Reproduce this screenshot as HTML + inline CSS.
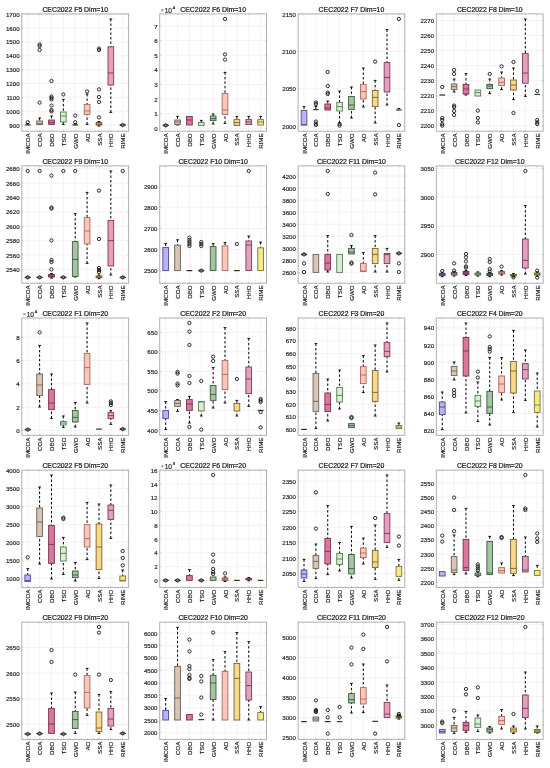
<!DOCTYPE html>
<html><head><meta charset="utf-8"><title>CEC2022 boxplots</title>
<style>html,body{margin:0;padding:0;background:#fff;}svg{display:block;}</style>
</head><body>
<svg width="550" height="768" viewBox="0 0 550 768" font-family="Liberation Sans, Arial, sans-serif">
<style>text{stroke:currentColor;stroke-width:0.18px;paint-order:stroke}.t{stroke-width:0.22px}</style>
<rect width="550" height="768" fill="#ffffff"/>
<g><path d="M27.74 13.9V131.2M39.61 13.9V131.2M51.48 13.9V131.2M63.35 13.9V131.2M75.23 13.9V131.2M87.10 13.9V131.2M98.97 13.9V131.2M110.84 13.9V131.2M122.71 13.9V131.2M21.8 125.00H128.65M21.8 111.16H128.65M21.8 97.33H128.65M21.8 83.49H128.65M21.8 69.65H128.65M21.8 55.81H128.65M21.8 41.98H128.65M21.8 28.14H128.65M21.8 14.30H128.65" stroke="#f0f0f0" stroke-width="0.8" fill="none"/><path d="M27.74 123.60V124.60" stroke="#000" stroke-width="1" stroke-dasharray="2.4 2.1" fill="none"/><path d="M26.34 123.60H29.14" stroke="#000" stroke-width="0.9" fill="none"/><path d="M24.89 124.90H30.59" stroke="#292854" stroke-width="1.2"/><circle cx="27.74" cy="122.20" r="1.65" fill="none" stroke="#111" stroke-width="0.85"/><path d="M39.61 118.00V121.00" stroke="#000" stroke-width="1" stroke-dasharray="2.4 2.1" fill="none"/><path d="M38.21 118.00H41.01" stroke="#000" stroke-width="0.9" fill="none"/><rect x="36.76" y="121.00" width="5.70" height="3.60" fill="#d6c6b9" stroke="#6e5e52" stroke-width="0.9"/><path d="M36.76 123.60H42.46" stroke="#6e5e52" stroke-width="0.9"/><circle cx="39.61" cy="102.60" r="1.65" fill="none" stroke="#111" stroke-width="0.85"/><circle cx="39.61" cy="50.00" r="1.65" fill="none" stroke="#111" stroke-width="0.85"/><circle cx="39.61" cy="46.00" r="1.65" fill="none" stroke="#111" stroke-width="0.85"/><circle cx="39.61" cy="44.40" r="1.65" fill="none" stroke="#111" stroke-width="0.85"/><path d="M51.48 116.00V120.00" stroke="#000" stroke-width="1" stroke-dasharray="2.4 2.1" fill="none"/><path d="M50.08 116.00H52.88" stroke="#000" stroke-width="0.9" fill="none"/><rect x="48.63" y="120.00" width="5.70" height="4.40" fill="#d9789c" stroke="#7a2e4f" stroke-width="0.9"/><path d="M48.63 122.60H54.33" stroke="#7a2e4f" stroke-width="0.9"/><circle cx="51.48" cy="81.00" r="1.65" fill="none" stroke="#111" stroke-width="0.85"/><circle cx="51.48" cy="96.60" r="1.65" fill="none" stroke="#111" stroke-width="0.85"/><circle cx="51.48" cy="98.00" r="1.65" fill="none" stroke="#111" stroke-width="0.85"/><circle cx="51.48" cy="99.40" r="1.65" fill="none" stroke="#111" stroke-width="0.85"/><circle cx="51.48" cy="105.60" r="1.65" fill="none" stroke="#111" stroke-width="0.85"/><circle cx="51.48" cy="110.00" r="1.65" fill="none" stroke="#111" stroke-width="0.85"/><circle cx="51.48" cy="111.40" r="1.65" fill="none" stroke="#111" stroke-width="0.85"/><path d="M63.35 99.40V112.00" stroke="#000" stroke-width="1" stroke-dasharray="2.4 2.1" fill="none"/><path d="M63.35 124.40V122.00" stroke="#000" stroke-width="1" stroke-dasharray="2.4 2.1" fill="none"/><path d="M61.95 99.40H64.75M61.95 124.40H64.75" stroke="#000" stroke-width="0.9" fill="none"/><rect x="60.50" y="112.00" width="5.70" height="10.00" fill="#d6f0d0" stroke="#587a56" stroke-width="0.9"/><path d="M60.50 116.00H66.20" stroke="#587a56" stroke-width="0.9"/><circle cx="63.35" cy="94.40" r="1.65" fill="none" stroke="#111" stroke-width="0.85"/><path d="M75.23 123.60V124.60" stroke="#000" stroke-width="1" stroke-dasharray="2.4 2.1" fill="none"/><path d="M73.83 123.60H76.63" stroke="#000" stroke-width="0.9" fill="none"/><path d="M72.38 124.90H78.07" stroke="#223122" stroke-width="1.2"/><circle cx="75.23" cy="115.60" r="1.65" fill="none" stroke="#111" stroke-width="0.85"/><circle cx="75.23" cy="122.20" r="1.65" fill="none" stroke="#111" stroke-width="0.85"/><path d="M87.10 94.00V104.40" stroke="#000" stroke-width="1" stroke-dasharray="2.4 2.1" fill="none"/><path d="M87.10 124.40V114.40" stroke="#000" stroke-width="1" stroke-dasharray="2.4 2.1" fill="none"/><path d="M85.70 94.00H88.50M85.70 124.40H88.50" stroke="#000" stroke-width="0.9" fill="none"/><rect x="84.25" y="104.40" width="5.70" height="10.00" fill="#f9c6b9" stroke="#a8695e" stroke-width="0.9"/><path d="M84.25 111.00H89.95" stroke="#a8695e" stroke-width="0.9"/><circle cx="87.10" cy="91.40" r="1.65" fill="none" stroke="#111" stroke-width="0.85"/><path d="M98.97 121.50V122.60" stroke="#000" stroke-width="1" stroke-dasharray="2.4 2.1" fill="none"/><path d="M98.97 126.10V125.00" stroke="#000" stroke-width="1" stroke-dasharray="2.4 2.1" fill="none"/><path d="M97.57 121.50H100.37M97.57 126.10H100.37" stroke="#000" stroke-width="0.9" fill="none"/><rect x="96.12" y="122.60" width="5.70" height="2.40" fill="#bea35f" stroke="#614c26" stroke-width="0.9"/><path d="M96.12 124.20H101.82" stroke="#7a6030" stroke-width="0.9"/><circle cx="98.97" cy="117.40" r="1.65" fill="none" stroke="#111" stroke-width="0.85"/><circle cx="98.97" cy="102.00" r="1.65" fill="none" stroke="#111" stroke-width="0.85"/><circle cx="98.97" cy="97.00" r="1.65" fill="none" stroke="#111" stroke-width="0.85"/><circle cx="98.97" cy="89.40" r="1.65" fill="none" stroke="#111" stroke-width="0.85"/><circle cx="98.97" cy="50.00" r="1.65" fill="none" stroke="#111" stroke-width="0.85"/><circle cx="98.97" cy="48.60" r="1.65" fill="none" stroke="#111" stroke-width="0.85"/><path d="M110.84 19.00V46.80" stroke="#000" stroke-width="1" stroke-dasharray="2.4 2.1" fill="none"/><path d="M110.84 112.40V85.00" stroke="#000" stroke-width="1" stroke-dasharray="2.4 2.1" fill="none"/><path d="M109.44 19.00H112.24M109.44 112.40H112.24" stroke="#000" stroke-width="0.9" fill="none"/><rect x="107.99" y="46.80" width="5.70" height="38.20" fill="#e6a0be" stroke="#7a3a5a" stroke-width="0.9"/><path d="M107.99 73.00H113.69" stroke="#7a3a5a" stroke-width="0.9"/><path d="M119.86 125.00H125.56" stroke="#43401a" stroke-width="1.2"/><path d="M119.81 125.00L122.71 123.20L125.61 125.00L122.71 126.80Z" fill="#555" stroke="#2a2a2a" stroke-width="0.8"/><circle cx="122.71" cy="125.00" r="0.6" fill="#999"/><rect x="21.8" y="13.9" width="106.85000000000001" height="117.3" fill="none" stroke="#a8a8a8" stroke-width="0.9"/><path d="M21.8 125.00h1.2M128.65 125.00h-1.2M21.8 111.16h1.2M128.65 111.16h-1.2M21.8 97.33h1.2M128.65 97.33h-1.2M21.8 83.49h1.2M128.65 83.49h-1.2M21.8 69.65h1.2M128.65 69.65h-1.2M21.8 55.81h1.2M128.65 55.81h-1.2M21.8 41.98h1.2M128.65 41.98h-1.2M21.8 28.14h1.2M128.65 28.14h-1.2M21.8 14.30h1.2M128.65 14.30h-1.2M27.74 131.2v-1.2M27.74 13.9v1.2M39.61 131.2v-1.2M39.61 13.9v1.2M51.48 131.2v-1.2M51.48 13.9v1.2M63.35 131.2v-1.2M63.35 13.9v1.2M75.23 131.2v-1.2M75.23 13.9v1.2M87.10 131.2v-1.2M87.10 13.9v1.2M98.97 131.2v-1.2M98.97 13.9v1.2M110.84 131.2v-1.2M110.84 13.9v1.2M122.71 131.2v-1.2M122.71 13.9v1.2" stroke="#b0b0b0" stroke-width="0.6" fill="none"/><text x="19.60" y="127.50" font-size="6.15" text-anchor="end" fill="#262626" color="#262626">900</text><text x="19.60" y="113.66" font-size="6.15" text-anchor="end" fill="#262626" color="#262626">1000</text><text x="19.60" y="99.83" font-size="6.15" text-anchor="end" fill="#262626" color="#262626">1100</text><text x="19.60" y="85.99" font-size="6.15" text-anchor="end" fill="#262626" color="#262626">1200</text><text x="19.60" y="72.15" font-size="6.15" text-anchor="end" fill="#262626" color="#262626">1300</text><text x="19.60" y="58.31" font-size="6.15" text-anchor="end" fill="#262626" color="#262626">1400</text><text x="19.60" y="44.48" font-size="6.15" text-anchor="end" fill="#262626" color="#262626">1500</text><text x="19.60" y="30.64" font-size="6.15" text-anchor="end" fill="#262626" color="#262626">1600</text><text x="19.60" y="16.80" font-size="6.15" text-anchor="end" fill="#262626" color="#262626">1700</text><text transform="translate(30.29,133.40) rotate(-90)" font-size="6.2" text-anchor="end" fill="#262626" color="#262626">IMCOA</text><text transform="translate(42.16,133.40) rotate(-90)" font-size="6.2" text-anchor="end" fill="#262626" color="#262626">COA</text><text transform="translate(54.03,133.40) rotate(-90)" font-size="6.2" text-anchor="end" fill="#262626" color="#262626">DBO</text><text transform="translate(65.90,133.40) rotate(-90)" font-size="6.2" text-anchor="end" fill="#262626" color="#262626">TSO</text><text transform="translate(77.78,133.40) rotate(-90)" font-size="6.2" text-anchor="end" fill="#262626" color="#262626">GWO</text><text transform="translate(89.65,133.40) rotate(-90)" font-size="6.2" text-anchor="end" fill="#262626" color="#262626">AO</text><text transform="translate(101.52,133.40) rotate(-90)" font-size="6.2" text-anchor="end" fill="#262626" color="#262626">SSA</text><text transform="translate(113.39,133.40) rotate(-90)" font-size="6.2" text-anchor="end" fill="#262626" color="#262626">HHO</text><text transform="translate(125.26,133.40) rotate(-90)" font-size="6.2" text-anchor="end" fill="#262626" color="#262626">RIME</text><text x="75.23" y="12.10" font-size="6.9" text-anchor="middle" fill="#1a1a1a" color="#1a1a1a" class="t">CEC2022 F5 Dim=10</text></g>
<g><path d="M165.68 13.9V131.2M177.55 13.9V131.2M189.42 13.9V131.2M201.28 13.9V131.2M213.15 13.9V131.2M225.02 13.9V131.2M236.88 13.9V131.2M248.75 13.9V131.2M260.62 13.9V131.2M159.75 128.30H266.55M159.75 113.69H266.55M159.75 99.07H266.55M159.75 84.46H266.55M159.75 69.84H266.55M159.75 55.23H266.55M159.75 40.61H266.55M159.75 26.00H266.55" stroke="#f0f0f0" stroke-width="0.8" fill="none"/><path d="M162.84 125.40H168.53" stroke="#292854" stroke-width="1.2"/><path d="M162.78 125.40L165.68 123.60L168.58 125.40L165.68 127.20Z" fill="#555" stroke="#2a2a2a" stroke-width="0.8"/><circle cx="165.68" cy="125.40" r="0.6" fill="#999"/><path d="M177.55 116.40V120.00" stroke="#000" stroke-width="1" stroke-dasharray="2.4 2.1" fill="none"/><path d="M177.55 125.00V124.40" stroke="#000" stroke-width="1" stroke-dasharray="2.4 2.1" fill="none"/><path d="M176.15 116.40H178.95M176.15 125.00H178.95" stroke="#000" stroke-width="0.9" fill="none"/><rect x="174.70" y="120.00" width="5.70" height="4.40" fill="#d6c6b9" stroke="#6e5e52" stroke-width="0.9"/><path d="M174.70 122.00H180.40" stroke="#6e5e52" stroke-width="0.9"/><rect x="186.57" y="116.40" width="5.70" height="8.60" fill="#d9789c" stroke="#7a2e4f" stroke-width="0.9"/><path d="M186.57 120.00H192.26" stroke="#7a2e4f" stroke-width="0.9"/><path d="M201.28 120.40V122.40" stroke="#000" stroke-width="1" stroke-dasharray="2.4 2.1" fill="none"/><path d="M199.88 120.40H202.68" stroke="#000" stroke-width="0.9" fill="none"/><rect x="198.44" y="122.40" width="5.70" height="3.00" fill="#d6f0d0" stroke="#587a56" stroke-width="0.9"/><path d="M213.15 114.00V116.00" stroke="#000" stroke-width="1" stroke-dasharray="2.4 2.1" fill="none"/><path d="M213.15 124.00V120.60" stroke="#000" stroke-width="1" stroke-dasharray="2.4 2.1" fill="none"/><path d="M211.75 114.00H214.55M211.75 124.00H214.55" stroke="#000" stroke-width="0.9" fill="none"/><rect x="210.30" y="116.00" width="5.70" height="4.60" fill="#a5c4a3" stroke="#3f5a3f" stroke-width="0.9"/><path d="M210.30 118.60H216.00" stroke="#3f5a3f" stroke-width="0.9"/><path d="M225.02 72.40V93.40" stroke="#000" stroke-width="1" stroke-dasharray="2.4 2.1" fill="none"/><path d="M225.02 123.40V114.40" stroke="#000" stroke-width="1" stroke-dasharray="2.4 2.1" fill="none"/><path d="M223.62 72.40H226.42M223.62 123.40H226.42" stroke="#000" stroke-width="0.9" fill="none"/><rect x="222.17" y="93.40" width="5.70" height="21.00" fill="#f9c6b9" stroke="#a8695e" stroke-width="0.9"/><path d="M222.17 110.00H227.86" stroke="#a8695e" stroke-width="0.9"/><circle cx="225.02" cy="59.60" r="1.65" fill="none" stroke="#111" stroke-width="0.85"/><circle cx="225.02" cy="54.40" r="1.65" fill="none" stroke="#111" stroke-width="0.85"/><circle cx="225.02" cy="19.00" r="1.65" fill="none" stroke="#111" stroke-width="0.85"/><path d="M236.88 116.40V119.60" stroke="#000" stroke-width="1" stroke-dasharray="2.4 2.1" fill="none"/><path d="M235.48 116.40H238.28" stroke="#000" stroke-width="0.9" fill="none"/><rect x="234.04" y="119.60" width="5.70" height="5.80" fill="#f7da86" stroke="#7a6030" stroke-width="0.9"/><path d="M234.04 122.60H239.73" stroke="#7a6030" stroke-width="0.9"/><path d="M248.75 116.40V119.60" stroke="#000" stroke-width="1" stroke-dasharray="2.4 2.1" fill="none"/><path d="M247.35 116.40H250.15" stroke="#000" stroke-width="0.9" fill="none"/><rect x="245.90" y="119.60" width="5.70" height="5.00" fill="#e6a0be" stroke="#7a3a5a" stroke-width="0.9"/><path d="M245.90 122.00H251.60" stroke="#7a3a5a" stroke-width="0.9"/><path d="M260.62 116.40V119.60" stroke="#000" stroke-width="1" stroke-dasharray="2.4 2.1" fill="none"/><path d="M259.22 116.40H262.02" stroke="#000" stroke-width="0.9" fill="none"/><rect x="257.77" y="119.60" width="5.70" height="5.40" fill="#f2eb88" stroke="#7a7630" stroke-width="0.9"/><path d="M257.77 122.00H263.46" stroke="#7a7630" stroke-width="0.9"/><rect x="159.75" y="13.9" width="106.80000000000001" height="117.3" fill="none" stroke="#a8a8a8" stroke-width="0.9"/><path d="M159.75 128.30h1.2M266.55 128.30h-1.2M159.75 113.69h1.2M266.55 113.69h-1.2M159.75 99.07h1.2M266.55 99.07h-1.2M159.75 84.46h1.2M266.55 84.46h-1.2M159.75 69.84h1.2M266.55 69.84h-1.2M159.75 55.23h1.2M266.55 55.23h-1.2M159.75 40.61h1.2M266.55 40.61h-1.2M159.75 26.00h1.2M266.55 26.00h-1.2M165.68 131.2v-1.2M165.68 13.9v1.2M177.55 131.2v-1.2M177.55 13.9v1.2M189.42 131.2v-1.2M189.42 13.9v1.2M201.28 131.2v-1.2M201.28 13.9v1.2M213.15 131.2v-1.2M213.15 13.9v1.2M225.02 131.2v-1.2M225.02 13.9v1.2M236.88 131.2v-1.2M236.88 13.9v1.2M248.75 131.2v-1.2M248.75 13.9v1.2M260.62 131.2v-1.2M260.62 13.9v1.2" stroke="#b0b0b0" stroke-width="0.6" fill="none"/><text x="157.55" y="130.80" font-size="6.15" text-anchor="end" fill="#262626" color="#262626">0</text><text x="157.55" y="116.19" font-size="6.15" text-anchor="end" fill="#262626" color="#262626">1</text><text x="157.55" y="101.57" font-size="6.15" text-anchor="end" fill="#262626" color="#262626">2</text><text x="157.55" y="86.96" font-size="6.15" text-anchor="end" fill="#262626" color="#262626">3</text><text x="157.55" y="72.34" font-size="6.15" text-anchor="end" fill="#262626" color="#262626">4</text><text x="157.55" y="57.73" font-size="6.15" text-anchor="end" fill="#262626" color="#262626">5</text><text x="157.55" y="43.11" font-size="6.15" text-anchor="end" fill="#262626" color="#262626">6</text><text x="157.55" y="28.50" font-size="6.15" text-anchor="end" fill="#262626" color="#262626">7</text><text transform="translate(168.23,133.40) rotate(-90)" font-size="6.2" text-anchor="end" fill="#262626" color="#262626">IMCOA</text><text transform="translate(180.10,133.40) rotate(-90)" font-size="6.2" text-anchor="end" fill="#262626" color="#262626">COA</text><text transform="translate(191.97,133.40) rotate(-90)" font-size="6.2" text-anchor="end" fill="#262626" color="#262626">DBO</text><text transform="translate(203.83,133.40) rotate(-90)" font-size="6.2" text-anchor="end" fill="#262626" color="#262626">TSO</text><text transform="translate(215.70,133.40) rotate(-90)" font-size="6.2" text-anchor="end" fill="#262626" color="#262626">GWO</text><text transform="translate(227.57,133.40) rotate(-90)" font-size="6.2" text-anchor="end" fill="#262626" color="#262626">AO</text><text transform="translate(239.43,133.40) rotate(-90)" font-size="6.2" text-anchor="end" fill="#262626" color="#262626">SSA</text><text transform="translate(251.30,133.40) rotate(-90)" font-size="6.2" text-anchor="end" fill="#262626" color="#262626">HHO</text><text transform="translate(263.17,133.40) rotate(-90)" font-size="6.2" text-anchor="end" fill="#262626" color="#262626">RIME</text><text x="213.15" y="12.10" font-size="6.9" text-anchor="middle" fill="#1a1a1a" color="#1a1a1a" class="t">CEC2022 F6 Dim=10</text><text x="160.65" y="11.70" font-size="5.6" fill="#555" style="stroke:none">×</text><text x="164.65" y="12.50" font-size="6.6" fill="#262626" color="#262626">10</text><text x="172.75" y="9.10" font-size="4.4" fill="#262626">4</text></g>
<g><path d="M304.03 13.9V131.2M315.88 13.9V131.2M327.74 13.9V131.2M339.59 13.9V131.2M351.45 13.9V131.2M363.31 13.9V131.2M375.16 13.9V131.2M387.02 13.9V131.2M398.87 13.9V131.2M298.1 126.00H404.8M298.1 88.70H404.8M298.1 51.40H404.8M298.1 14.10H404.8" stroke="#f0f0f0" stroke-width="0.8" fill="none"/><path d="M304.03 106.60V110.40" stroke="#000" stroke-width="1" stroke-dasharray="2.4 2.1" fill="none"/><path d="M302.63 106.60H305.43" stroke="#000" stroke-width="0.9" fill="none"/><rect x="301.18" y="110.40" width="5.69" height="14.60" fill="#b9b3f5" stroke="#4b4a9a" stroke-width="0.9"/><path d="M301.18 124.80H306.87" stroke="#4b4a9a" stroke-width="0.9"/><path d="M315.88 106.50V109.20" stroke="#000" stroke-width="1" stroke-dasharray="2.4 2.1" fill="none"/><path d="M314.48 106.50H317.28" stroke="#000" stroke-width="0.9" fill="none"/><path d="M313.04 109.60H318.73" stroke="#3c332d" stroke-width="1.2"/><circle cx="315.88" cy="102.40" r="1.65" fill="none" stroke="#111" stroke-width="0.85"/><circle cx="315.88" cy="104.00" r="1.65" fill="none" stroke="#111" stroke-width="0.85"/><circle cx="315.88" cy="121.60" r="1.65" fill="none" stroke="#111" stroke-width="0.85"/><circle cx="315.88" cy="123.60" r="1.65" fill="none" stroke="#111" stroke-width="0.85"/><circle cx="315.88" cy="125.00" r="1.65" fill="none" stroke="#111" stroke-width="0.85"/><path d="M327.74 101.00V104.00" stroke="#000" stroke-width="1" stroke-dasharray="2.4 2.1" fill="none"/><path d="M326.34 101.00H329.14" stroke="#000" stroke-width="0.9" fill="none"/><rect x="324.89" y="104.00" width="5.69" height="6.00" fill="#d9789c" stroke="#7a2e4f" stroke-width="0.9"/><path d="M324.89 108.00H330.58" stroke="#7a2e4f" stroke-width="0.9"/><circle cx="327.74" cy="72.00" r="1.65" fill="none" stroke="#111" stroke-width="0.85"/><circle cx="327.74" cy="86.00" r="1.65" fill="none" stroke="#111" stroke-width="0.85"/><circle cx="327.74" cy="92.60" r="1.65" fill="none" stroke="#111" stroke-width="0.85"/><circle cx="327.74" cy="94.00" r="1.65" fill="none" stroke="#111" stroke-width="0.85"/><path d="M339.59 91.00V102.40" stroke="#000" stroke-width="1" stroke-dasharray="2.4 2.1" fill="none"/><path d="M339.59 123.00V111.00" stroke="#000" stroke-width="1" stroke-dasharray="2.4 2.1" fill="none"/><path d="M338.19 91.00H340.99M338.19 123.00H340.99" stroke="#000" stroke-width="0.9" fill="none"/><rect x="336.75" y="102.40" width="5.69" height="8.60" fill="#d6f0d0" stroke="#587a56" stroke-width="0.9"/><path d="M336.75 106.60H342.44" stroke="#587a56" stroke-width="0.9"/><circle cx="339.59" cy="124.00" r="1.65" fill="none" stroke="#111" stroke-width="0.85"/><circle cx="339.59" cy="125.60" r="1.65" fill="none" stroke="#111" stroke-width="0.85"/><path d="M351.45 87.00V96.40" stroke="#000" stroke-width="1" stroke-dasharray="2.4 2.1" fill="none"/><path d="M351.45 118.00V109.40" stroke="#000" stroke-width="1" stroke-dasharray="2.4 2.1" fill="none"/><path d="M350.05 87.00H352.85M350.05 118.00H352.85" stroke="#000" stroke-width="0.9" fill="none"/><rect x="348.60" y="96.40" width="5.69" height="13.00" fill="#a5c4a3" stroke="#3f5a3f" stroke-width="0.9"/><path d="M348.60 105.00H354.30" stroke="#3f5a3f" stroke-width="0.9"/><path d="M363.31 68.00V84.40" stroke="#000" stroke-width="1" stroke-dasharray="2.4 2.1" fill="none"/><path d="M363.31 107.00V99.00" stroke="#000" stroke-width="1" stroke-dasharray="2.4 2.1" fill="none"/><path d="M361.91 68.00H364.71M361.91 107.00H364.71" stroke="#000" stroke-width="0.9" fill="none"/><rect x="360.46" y="84.40" width="5.69" height="14.60" fill="#f9c6b9" stroke="#a8695e" stroke-width="0.9"/><path d="M360.46 91.60H366.15" stroke="#a8695e" stroke-width="0.9"/><path d="M375.16 80.40V90.40" stroke="#000" stroke-width="1" stroke-dasharray="2.4 2.1" fill="none"/><path d="M375.16 123.00V106.40" stroke="#000" stroke-width="1" stroke-dasharray="2.4 2.1" fill="none"/><path d="M373.76 80.40H376.56M373.76 123.00H376.56" stroke="#000" stroke-width="0.9" fill="none"/><rect x="372.32" y="90.40" width="5.69" height="16.00" fill="#f7da86" stroke="#7a6030" stroke-width="0.9"/><path d="M372.32 97.40H378.01" stroke="#7a6030" stroke-width="0.9"/><circle cx="375.16" cy="61.60" r="1.65" fill="none" stroke="#111" stroke-width="0.85"/><path d="M387.02 29.60V62.60" stroke="#000" stroke-width="1" stroke-dasharray="2.4 2.1" fill="none"/><path d="M387.02 105.00V92.00" stroke="#000" stroke-width="1" stroke-dasharray="2.4 2.1" fill="none"/><path d="M385.62 29.60H388.42M385.62 105.00H388.42" stroke="#000" stroke-width="0.9" fill="none"/><rect x="384.17" y="62.60" width="5.69" height="29.40" fill="#e6a0be" stroke="#7a3a5a" stroke-width="0.9"/><path d="M384.17 77.40H389.86" stroke="#7a3a5a" stroke-width="0.9"/><path d="M398.87 108.40V109.80" stroke="#000" stroke-width="1" stroke-dasharray="2.4 2.1" fill="none"/><path d="M397.47 108.40H400.27" stroke="#000" stroke-width="0.9" fill="none"/><path d="M396.03 110.00H401.72" stroke="#43401a" stroke-width="1.2"/><circle cx="398.87" cy="125.00" r="1.65" fill="none" stroke="#111" stroke-width="0.85"/><circle cx="398.87" cy="19.00" r="1.65" fill="none" stroke="#111" stroke-width="0.85"/><rect x="298.1" y="13.9" width="106.69999999999999" height="117.3" fill="none" stroke="#a8a8a8" stroke-width="0.9"/><path d="M298.1 126.00h1.2M404.8 126.00h-1.2M298.1 88.70h1.2M404.8 88.70h-1.2M298.1 51.40h1.2M404.8 51.40h-1.2M298.1 14.10h1.2M404.8 14.10h-1.2M304.03 131.2v-1.2M304.03 13.9v1.2M315.88 131.2v-1.2M315.88 13.9v1.2M327.74 131.2v-1.2M327.74 13.9v1.2M339.59 131.2v-1.2M339.59 13.9v1.2M351.45 131.2v-1.2M351.45 13.9v1.2M363.31 131.2v-1.2M363.31 13.9v1.2M375.16 131.2v-1.2M375.16 13.9v1.2M387.02 131.2v-1.2M387.02 13.9v1.2M398.87 131.2v-1.2M398.87 13.9v1.2" stroke="#b0b0b0" stroke-width="0.6" fill="none"/><text x="295.90" y="128.50" font-size="6.15" text-anchor="end" fill="#262626" color="#262626">2000</text><text x="295.90" y="91.20" font-size="6.15" text-anchor="end" fill="#262626" color="#262626">2050</text><text x="295.90" y="53.90" font-size="6.15" text-anchor="end" fill="#262626" color="#262626">2100</text><text x="295.90" y="16.60" font-size="6.15" text-anchor="end" fill="#262626" color="#262626">2150</text><text transform="translate(306.58,133.40) rotate(-90)" font-size="6.2" text-anchor="end" fill="#262626" color="#262626">IMCOA</text><text transform="translate(318.43,133.40) rotate(-90)" font-size="6.2" text-anchor="end" fill="#262626" color="#262626">COA</text><text transform="translate(330.29,133.40) rotate(-90)" font-size="6.2" text-anchor="end" fill="#262626" color="#262626">DBO</text><text transform="translate(342.14,133.40) rotate(-90)" font-size="6.2" text-anchor="end" fill="#262626" color="#262626">TSO</text><text transform="translate(354.00,133.40) rotate(-90)" font-size="6.2" text-anchor="end" fill="#262626" color="#262626">GWO</text><text transform="translate(365.86,133.40) rotate(-90)" font-size="6.2" text-anchor="end" fill="#262626" color="#262626">AO</text><text transform="translate(377.71,133.40) rotate(-90)" font-size="6.2" text-anchor="end" fill="#262626" color="#262626">SSA</text><text transform="translate(389.57,133.40) rotate(-90)" font-size="6.2" text-anchor="end" fill="#262626" color="#262626">HHO</text><text transform="translate(401.42,133.40) rotate(-90)" font-size="6.2" text-anchor="end" fill="#262626" color="#262626">RIME</text><text x="351.45" y="12.10" font-size="6.9" text-anchor="middle" fill="#1a1a1a" color="#1a1a1a" class="t">CEC2022 F7 Dim=10</text></g>
<g><path d="M442.24 13.9V131.2M454.11 13.9V131.2M465.98 13.9V131.2M477.85 13.9V131.2M489.73 13.9V131.2M501.60 13.9V131.2M513.47 13.9V131.2M525.34 13.9V131.2M537.21 13.9V131.2M436.3 125.80H543.15M436.3 110.76H543.15M436.3 95.71H543.15M436.3 80.67H543.15M436.3 65.63H543.15M436.3 50.59H543.15M436.3 35.54H543.15M436.3 20.50H543.15" stroke="#f0f0f0" stroke-width="0.8" fill="none"/><path d="M439.39 95.00H445.09" stroke="#292854" stroke-width="1.2"/><circle cx="442.24" cy="87.00" r="1.65" fill="none" stroke="#111" stroke-width="0.85"/><circle cx="442.24" cy="118.00" r="1.65" fill="none" stroke="#111" stroke-width="0.85"/><circle cx="442.24" cy="120.00" r="1.65" fill="none" stroke="#111" stroke-width="0.85"/><circle cx="442.24" cy="124.00" r="1.65" fill="none" stroke="#111" stroke-width="0.85"/><circle cx="442.24" cy="125.60" r="1.65" fill="none" stroke="#111" stroke-width="0.85"/><path d="M454.11 79.00V84.00" stroke="#000" stroke-width="1" stroke-dasharray="2.4 2.1" fill="none"/><path d="M454.11 92.00V89.60" stroke="#000" stroke-width="1" stroke-dasharray="2.4 2.1" fill="none"/><path d="M452.71 79.00H455.51M452.71 92.00H455.51" stroke="#000" stroke-width="0.9" fill="none"/><rect x="451.26" y="84.00" width="5.70" height="5.60" fill="#d6c6b9" stroke="#6e5e52" stroke-width="0.9"/><path d="M451.26 86.60H456.96" stroke="#6e5e52" stroke-width="0.9"/><circle cx="454.11" cy="70.00" r="1.65" fill="none" stroke="#111" stroke-width="0.85"/><circle cx="454.11" cy="74.00" r="1.65" fill="none" stroke="#111" stroke-width="0.85"/><circle cx="454.11" cy="105.60" r="1.65" fill="none" stroke="#111" stroke-width="0.85"/><circle cx="454.11" cy="107.00" r="1.65" fill="none" stroke="#111" stroke-width="0.85"/><circle cx="454.11" cy="111.00" r="1.65" fill="none" stroke="#111" stroke-width="0.85"/><circle cx="454.11" cy="115.00" r="1.65" fill="none" stroke="#111" stroke-width="0.85"/><path d="M465.98 73.60V84.40" stroke="#000" stroke-width="1" stroke-dasharray="2.4 2.1" fill="none"/><path d="M465.98 95.00V94.00" stroke="#000" stroke-width="1" stroke-dasharray="2.4 2.1" fill="none"/><path d="M464.58 73.60H467.38M464.58 95.00H467.38" stroke="#000" stroke-width="0.9" fill="none"/><rect x="463.13" y="84.40" width="5.70" height="9.60" fill="#d9789c" stroke="#7a2e4f" stroke-width="0.9"/><path d="M463.13 89.00H468.83" stroke="#7a2e4f" stroke-width="0.9"/><rect x="475.00" y="90.00" width="5.70" height="6.00" fill="#d6f0d0" stroke="#587a56" stroke-width="0.9"/><path d="M475.00 92.60H480.70" stroke="#587a56" stroke-width="0.9"/><circle cx="477.85" cy="110.60" r="1.65" fill="none" stroke="#111" stroke-width="0.85"/><circle cx="477.85" cy="118.00" r="1.65" fill="none" stroke="#111" stroke-width="0.85"/><circle cx="477.85" cy="122.40" r="1.65" fill="none" stroke="#111" stroke-width="0.85"/><path d="M489.73 79.00V84.40" stroke="#000" stroke-width="1" stroke-dasharray="2.4 2.1" fill="none"/><path d="M489.73 93.60V88.60" stroke="#000" stroke-width="1" stroke-dasharray="2.4 2.1" fill="none"/><path d="M488.33 79.00H491.12M488.33 93.60H491.12" stroke="#000" stroke-width="0.9" fill="none"/><rect x="486.88" y="84.40" width="5.70" height="4.20" fill="#a5c4a3" stroke="#3f5a3f" stroke-width="0.9"/><path d="M486.88 86.00H492.57" stroke="#3f5a3f" stroke-width="0.9"/><circle cx="489.73" cy="74.00" r="1.65" fill="none" stroke="#111" stroke-width="0.85"/><path d="M501.60 72.00V78.00" stroke="#000" stroke-width="1" stroke-dasharray="2.4 2.1" fill="none"/><path d="M501.60 89.60V85.60" stroke="#000" stroke-width="1" stroke-dasharray="2.4 2.1" fill="none"/><path d="M500.20 72.00H503.00M500.20 89.60H503.00" stroke="#000" stroke-width="0.9" fill="none"/><rect x="498.75" y="78.00" width="5.70" height="7.60" fill="#f9c6b9" stroke="#a8695e" stroke-width="0.9"/><path d="M498.75 82.40H504.45" stroke="#a8695e" stroke-width="0.9"/><circle cx="501.60" cy="66.40" r="1.65" fill="none" stroke="#111" stroke-width="0.85"/><path d="M513.47 68.00V80.00" stroke="#000" stroke-width="1" stroke-dasharray="2.4 2.1" fill="none"/><path d="M513.47 99.60V90.00" stroke="#000" stroke-width="1" stroke-dasharray="2.4 2.1" fill="none"/><path d="M512.07 68.00H514.87M512.07 99.60H514.87" stroke="#000" stroke-width="0.9" fill="none"/><rect x="510.62" y="80.00" width="5.70" height="10.00" fill="#f7da86" stroke="#7a6030" stroke-width="0.9"/><path d="M510.62 85.00H516.32" stroke="#7a6030" stroke-width="0.9"/><circle cx="513.47" cy="62.00" r="1.65" fill="none" stroke="#111" stroke-width="0.85"/><circle cx="513.47" cy="113.00" r="1.65" fill="none" stroke="#111" stroke-width="0.85"/><path d="M525.34 19.00V53.60" stroke="#000" stroke-width="1" stroke-dasharray="2.4 2.1" fill="none"/><path d="M525.34 96.40V83.20" stroke="#000" stroke-width="1" stroke-dasharray="2.4 2.1" fill="none"/><path d="M523.94 19.00H526.74M523.94 96.40H526.74" stroke="#000" stroke-width="0.9" fill="none"/><rect x="522.49" y="53.60" width="5.70" height="29.60" fill="#e6a0be" stroke="#7a3a5a" stroke-width="0.9"/><path d="M522.49 73.00H528.19" stroke="#7a3a5a" stroke-width="0.9"/><path d="M534.36 94.40H540.06" stroke="#43401a" stroke-width="1.2"/><circle cx="537.21" cy="91.00" r="1.65" fill="none" stroke="#111" stroke-width="0.85"/><circle cx="537.21" cy="120.00" r="1.65" fill="none" stroke="#111" stroke-width="0.85"/><circle cx="537.21" cy="122.40" r="1.65" fill="none" stroke="#111" stroke-width="0.85"/><circle cx="537.21" cy="124.00" r="1.65" fill="none" stroke="#111" stroke-width="0.85"/><rect x="436.3" y="13.9" width="106.84999999999997" height="117.3" fill="none" stroke="#a8a8a8" stroke-width="0.9"/><path d="M436.3 125.80h1.2M543.15 125.80h-1.2M436.3 110.76h1.2M543.15 110.76h-1.2M436.3 95.71h1.2M543.15 95.71h-1.2M436.3 80.67h1.2M543.15 80.67h-1.2M436.3 65.63h1.2M543.15 65.63h-1.2M436.3 50.59h1.2M543.15 50.59h-1.2M436.3 35.54h1.2M543.15 35.54h-1.2M436.3 20.50h1.2M543.15 20.50h-1.2M442.24 131.2v-1.2M442.24 13.9v1.2M454.11 131.2v-1.2M454.11 13.9v1.2M465.98 131.2v-1.2M465.98 13.9v1.2M477.85 131.2v-1.2M477.85 13.9v1.2M489.73 131.2v-1.2M489.73 13.9v1.2M501.60 131.2v-1.2M501.60 13.9v1.2M513.47 131.2v-1.2M513.47 13.9v1.2M525.34 131.2v-1.2M525.34 13.9v1.2M537.21 131.2v-1.2M537.21 13.9v1.2" stroke="#b0b0b0" stroke-width="0.6" fill="none"/><text x="434.10" y="128.30" font-size="6.15" text-anchor="end" fill="#262626" color="#262626">2200</text><text x="434.10" y="113.26" font-size="6.15" text-anchor="end" fill="#262626" color="#262626">2210</text><text x="434.10" y="98.21" font-size="6.15" text-anchor="end" fill="#262626" color="#262626">2220</text><text x="434.10" y="83.17" font-size="6.15" text-anchor="end" fill="#262626" color="#262626">2230</text><text x="434.10" y="68.13" font-size="6.15" text-anchor="end" fill="#262626" color="#262626">2240</text><text x="434.10" y="53.09" font-size="6.15" text-anchor="end" fill="#262626" color="#262626">2250</text><text x="434.10" y="38.04" font-size="6.15" text-anchor="end" fill="#262626" color="#262626">2260</text><text x="434.10" y="23.00" font-size="6.15" text-anchor="end" fill="#262626" color="#262626">2270</text><text transform="translate(444.79,133.40) rotate(-90)" font-size="6.2" text-anchor="end" fill="#262626" color="#262626">IMCOA</text><text transform="translate(456.66,133.40) rotate(-90)" font-size="6.2" text-anchor="end" fill="#262626" color="#262626">COA</text><text transform="translate(468.53,133.40) rotate(-90)" font-size="6.2" text-anchor="end" fill="#262626" color="#262626">DBO</text><text transform="translate(480.40,133.40) rotate(-90)" font-size="6.2" text-anchor="end" fill="#262626" color="#262626">TSO</text><text transform="translate(492.28,133.40) rotate(-90)" font-size="6.2" text-anchor="end" fill="#262626" color="#262626">GWO</text><text transform="translate(504.15,133.40) rotate(-90)" font-size="6.2" text-anchor="end" fill="#262626" color="#262626">AO</text><text transform="translate(516.02,133.40) rotate(-90)" font-size="6.2" text-anchor="end" fill="#262626" color="#262626">SSA</text><text transform="translate(527.89,133.40) rotate(-90)" font-size="6.2" text-anchor="end" fill="#262626" color="#262626">HHO</text><text transform="translate(539.76,133.40) rotate(-90)" font-size="6.2" text-anchor="end" fill="#262626" color="#262626">RIME</text><text x="489.73" y="12.10" font-size="6.9" text-anchor="middle" fill="#1a1a1a" color="#1a1a1a" class="t">CEC2022 F8 Dim=10</text></g>
<g><path d="M27.74 165.9V283.2M39.61 165.9V283.2M51.48 165.9V283.2M63.35 165.9V283.2M75.23 165.9V283.2M87.10 165.9V283.2M98.97 165.9V283.2M110.84 165.9V283.2M122.71 165.9V283.2M21.8 269.40H128.65M21.8 255.03H128.65M21.8 240.66H128.65M21.8 226.29H128.65M21.8 211.91H128.65M21.8 197.54H128.65M21.8 183.17H128.65M21.8 168.80H128.65" stroke="#f0f0f0" stroke-width="0.8" fill="none"/><path d="M24.89 277.40H30.59" stroke="#292854" stroke-width="1.2"/><path d="M24.84 277.40L27.74 275.60L30.64 277.40L27.74 279.20Z" fill="#555" stroke="#2a2a2a" stroke-width="0.8"/><circle cx="27.74" cy="277.40" r="0.6" fill="#999"/><circle cx="27.74" cy="171.00" r="1.65" fill="none" stroke="#111" stroke-width="0.85"/><path d="M36.76 277.40H42.46" stroke="#3c332d" stroke-width="1.2"/><path d="M36.71 277.40L39.61 275.60L42.51 277.40L39.61 279.20Z" fill="#555" stroke="#2a2a2a" stroke-width="0.8"/><circle cx="39.61" cy="277.40" r="0.6" fill="#999"/><circle cx="39.61" cy="171.00" r="1.65" fill="none" stroke="#111" stroke-width="0.85"/><path d="M51.48 273.50V274.60" stroke="#000" stroke-width="1" stroke-dasharray="2.4 2.1" fill="none"/><path d="M51.48 278.10V277.00" stroke="#000" stroke-width="1" stroke-dasharray="2.4 2.1" fill="none"/><path d="M50.08 273.50H52.88M50.08 278.10H52.88" stroke="#000" stroke-width="0.9" fill="none"/><rect x="48.63" y="274.60" width="5.70" height="2.40" fill="#ae5679" stroke="#61243f" stroke-width="0.9"/><path d="M48.63 276.00H54.33" stroke="#7a2e4f" stroke-width="0.9"/><circle cx="51.48" cy="175.60" r="1.65" fill="none" stroke="#111" stroke-width="0.85"/><circle cx="51.48" cy="207.60" r="1.65" fill="none" stroke="#111" stroke-width="0.85"/><circle cx="51.48" cy="208.60" r="1.65" fill="none" stroke="#111" stroke-width="0.85"/><circle cx="51.48" cy="240.40" r="1.65" fill="none" stroke="#111" stroke-width="0.85"/><circle cx="51.48" cy="260.00" r="1.65" fill="none" stroke="#111" stroke-width="0.85"/><circle cx="51.48" cy="262.00" r="1.65" fill="none" stroke="#111" stroke-width="0.85"/><circle cx="51.48" cy="269.40" r="1.65" fill="none" stroke="#111" stroke-width="0.85"/><path d="M60.50 277.40H66.20" stroke="#30432f" stroke-width="1.2"/><path d="M60.45 277.40L63.35 275.60L66.25 277.40L63.35 279.20Z" fill="#555" stroke="#2a2a2a" stroke-width="0.8"/><circle cx="63.35" cy="277.40" r="0.6" fill="#999"/><circle cx="63.35" cy="171.00" r="1.65" fill="none" stroke="#111" stroke-width="0.85"/><path d="M75.23 213.60V241.60" stroke="#000" stroke-width="1" stroke-dasharray="2.4 2.1" fill="none"/><path d="M75.23 277.00V276.40" stroke="#000" stroke-width="1" stroke-dasharray="2.4 2.1" fill="none"/><path d="M73.83 213.60H76.63M73.83 277.00H76.63" stroke="#000" stroke-width="0.9" fill="none"/><rect x="72.38" y="241.60" width="5.70" height="34.80" fill="#a5c4a3" stroke="#3f5a3f" stroke-width="0.9"/><path d="M72.38 259.40H78.07" stroke="#3f5a3f" stroke-width="0.9"/><circle cx="75.23" cy="171.00" r="1.65" fill="none" stroke="#111" stroke-width="0.85"/><path d="M87.10 192.40V217.60" stroke="#000" stroke-width="1" stroke-dasharray="2.4 2.1" fill="none"/><path d="M87.10 263.40V244.00" stroke="#000" stroke-width="1" stroke-dasharray="2.4 2.1" fill="none"/><path d="M85.70 192.40H88.50M85.70 263.40H88.50" stroke="#000" stroke-width="0.9" fill="none"/><rect x="84.25" y="217.60" width="5.70" height="26.40" fill="#f9c6b9" stroke="#a8695e" stroke-width="0.9"/><path d="M84.25 231.00H89.95" stroke="#a8695e" stroke-width="0.9"/><path d="M98.97 274.90V276.00" stroke="#000" stroke-width="1" stroke-dasharray="2.4 2.1" fill="none"/><path d="M98.97 278.70V277.60" stroke="#000" stroke-width="1" stroke-dasharray="2.4 2.1" fill="none"/><path d="M97.57 274.90H100.37M97.57 278.70H100.37" stroke="#000" stroke-width="0.9" fill="none"/><rect x="96.12" y="276.00" width="5.70" height="1.60" fill="#bea35f" stroke="#614c26" stroke-width="0.9"/><path d="M96.12 277.00H101.82" stroke="#7a6030" stroke-width="0.9"/><circle cx="98.97" cy="190.60" r="1.65" fill="none" stroke="#111" stroke-width="0.85"/><circle cx="98.97" cy="239.00" r="1.65" fill="none" stroke="#111" stroke-width="0.85"/><circle cx="98.97" cy="268.00" r="1.65" fill="none" stroke="#111" stroke-width="0.85"/><circle cx="98.97" cy="270.00" r="1.65" fill="none" stroke="#111" stroke-width="0.85"/><circle cx="98.97" cy="272.00" r="1.65" fill="none" stroke="#111" stroke-width="0.85"/><path d="M110.84 171.00V220.40" stroke="#000" stroke-width="1" stroke-dasharray="2.4 2.1" fill="none"/><path d="M110.84 275.00V266.00" stroke="#000" stroke-width="1" stroke-dasharray="2.4 2.1" fill="none"/><path d="M109.44 171.00H112.24M109.44 275.00H112.24" stroke="#000" stroke-width="0.9" fill="none"/><rect x="107.99" y="220.40" width="5.70" height="45.60" fill="#e6a0be" stroke="#7a3a5a" stroke-width="0.9"/><path d="M107.99 240.60H113.69" stroke="#7a3a5a" stroke-width="0.9"/><path d="M119.86 277.40H125.56" stroke="#43401a" stroke-width="1.2"/><path d="M119.81 277.40L122.71 275.60L125.61 277.40L122.71 279.20Z" fill="#555" stroke="#2a2a2a" stroke-width="0.8"/><circle cx="122.71" cy="277.40" r="0.6" fill="#999"/><circle cx="122.71" cy="171.00" r="1.65" fill="none" stroke="#111" stroke-width="0.85"/><rect x="21.8" y="165.9" width="106.85000000000001" height="117.3" fill="none" stroke="#a8a8a8" stroke-width="0.9"/><path d="M21.8 269.40h1.2M128.65 269.40h-1.2M21.8 255.03h1.2M128.65 255.03h-1.2M21.8 240.66h1.2M128.65 240.66h-1.2M21.8 226.29h1.2M128.65 226.29h-1.2M21.8 211.91h1.2M128.65 211.91h-1.2M21.8 197.54h1.2M128.65 197.54h-1.2M21.8 183.17h1.2M128.65 183.17h-1.2M21.8 168.80h1.2M128.65 168.80h-1.2M27.74 283.2v-1.2M27.74 165.9v1.2M39.61 283.2v-1.2M39.61 165.9v1.2M51.48 283.2v-1.2M51.48 165.9v1.2M63.35 283.2v-1.2M63.35 165.9v1.2M75.23 283.2v-1.2M75.23 165.9v1.2M87.10 283.2v-1.2M87.10 165.9v1.2M98.97 283.2v-1.2M98.97 165.9v1.2M110.84 283.2v-1.2M110.84 165.9v1.2M122.71 283.2v-1.2M122.71 165.9v1.2" stroke="#b0b0b0" stroke-width="0.6" fill="none"/><text x="19.60" y="271.90" font-size="6.15" text-anchor="end" fill="#262626" color="#262626">2540</text><text x="19.60" y="257.53" font-size="6.15" text-anchor="end" fill="#262626" color="#262626">2560</text><text x="19.60" y="243.16" font-size="6.15" text-anchor="end" fill="#262626" color="#262626">2580</text><text x="19.60" y="228.79" font-size="6.15" text-anchor="end" fill="#262626" color="#262626">2600</text><text x="19.60" y="214.41" font-size="6.15" text-anchor="end" fill="#262626" color="#262626">2620</text><text x="19.60" y="200.04" font-size="6.15" text-anchor="end" fill="#262626" color="#262626">2640</text><text x="19.60" y="185.67" font-size="6.15" text-anchor="end" fill="#262626" color="#262626">2660</text><text x="19.60" y="171.30" font-size="6.15" text-anchor="end" fill="#262626" color="#262626">2680</text><text transform="translate(30.29,285.40) rotate(-90)" font-size="6.2" text-anchor="end" fill="#262626" color="#262626">IMCOA</text><text transform="translate(42.16,285.40) rotate(-90)" font-size="6.2" text-anchor="end" fill="#262626" color="#262626">COA</text><text transform="translate(54.03,285.40) rotate(-90)" font-size="6.2" text-anchor="end" fill="#262626" color="#262626">DBO</text><text transform="translate(65.90,285.40) rotate(-90)" font-size="6.2" text-anchor="end" fill="#262626" color="#262626">TSO</text><text transform="translate(77.78,285.40) rotate(-90)" font-size="6.2" text-anchor="end" fill="#262626" color="#262626">GWO</text><text transform="translate(89.65,285.40) rotate(-90)" font-size="6.2" text-anchor="end" fill="#262626" color="#262626">AO</text><text transform="translate(101.52,285.40) rotate(-90)" font-size="6.2" text-anchor="end" fill="#262626" color="#262626">SSA</text><text transform="translate(113.39,285.40) rotate(-90)" font-size="6.2" text-anchor="end" fill="#262626" color="#262626">HHO</text><text transform="translate(125.26,285.40) rotate(-90)" font-size="6.2" text-anchor="end" fill="#262626" color="#262626">RIME</text><text x="75.23" y="164.10" font-size="6.9" text-anchor="middle" fill="#1a1a1a" color="#1a1a1a" class="t">CEC2022 F9 Dim=10</text></g>
<g><path d="M165.68 165.9V283.2M177.55 165.9V283.2M189.42 165.9V283.2M201.28 165.9V283.2M213.15 165.9V283.2M225.02 165.9V283.2M236.88 165.9V283.2M248.75 165.9V283.2M260.62 165.9V283.2M159.75 270.70H266.55M159.75 249.52H266.55M159.75 228.35H266.55M159.75 207.18H266.55M159.75 186.00H266.55" stroke="#f0f0f0" stroke-width="0.8" fill="none"/><path d="M165.68 243.60V247.40" stroke="#000" stroke-width="1" stroke-dasharray="2.4 2.1" fill="none"/><path d="M164.28 243.60H167.08" stroke="#000" stroke-width="0.9" fill="none"/><rect x="162.84" y="247.40" width="5.70" height="23.20" fill="#b9b3f5" stroke="#4b4a9a" stroke-width="0.9"/><path d="M177.55 239.80V245.20" stroke="#000" stroke-width="1" stroke-dasharray="2.4 2.1" fill="none"/><path d="M176.15 239.80H178.95" stroke="#000" stroke-width="0.9" fill="none"/><rect x="174.70" y="245.20" width="5.70" height="25.40" fill="#d6c6b9" stroke="#6e5e52" stroke-width="0.9"/><path d="M186.57 270.60H192.26" stroke="#43192b" stroke-width="1.2"/><circle cx="189.42" cy="237.60" r="1.65" fill="none" stroke="#111" stroke-width="0.85"/><circle cx="189.42" cy="240.00" r="1.65" fill="none" stroke="#111" stroke-width="0.85"/><circle cx="189.42" cy="242.00" r="1.65" fill="none" stroke="#111" stroke-width="0.85"/><circle cx="189.42" cy="244.00" r="1.65" fill="none" stroke="#111" stroke-width="0.85"/><circle cx="189.42" cy="246.00" r="1.65" fill="none" stroke="#111" stroke-width="0.85"/><path d="M198.44 270.60H204.13" stroke="#30432f" stroke-width="1.2"/><path d="M198.38 270.60L201.28 268.80L204.18 270.60L201.28 272.40Z" fill="#555" stroke="#2a2a2a" stroke-width="0.8"/><circle cx="201.28" cy="270.60" r="0.6" fill="#999"/><circle cx="201.28" cy="242.00" r="1.65" fill="none" stroke="#111" stroke-width="0.85"/><circle cx="201.28" cy="244.00" r="1.65" fill="none" stroke="#111" stroke-width="0.85"/><circle cx="201.28" cy="246.00" r="1.65" fill="none" stroke="#111" stroke-width="0.85"/><path d="M213.15 243.60V246.60" stroke="#000" stroke-width="1" stroke-dasharray="2.4 2.1" fill="none"/><path d="M211.75 243.60H214.55" stroke="#000" stroke-width="0.9" fill="none"/><rect x="210.30" y="246.60" width="5.70" height="24.00" fill="#a5c4a3" stroke="#3f5a3f" stroke-width="0.9"/><path d="M225.02 242.60V245.80" stroke="#000" stroke-width="1" stroke-dasharray="2.4 2.1" fill="none"/><path d="M223.62 242.60H226.42" stroke="#000" stroke-width="0.9" fill="none"/><rect x="222.17" y="245.80" width="5.70" height="24.80" fill="#f9c6b9" stroke="#a8695e" stroke-width="0.9"/><path d="M234.04 270.60H239.73" stroke="#43341a" stroke-width="1.2"/><circle cx="236.88" cy="244.00" r="1.65" fill="none" stroke="#111" stroke-width="0.85"/><path d="M248.75 236.00V241.00" stroke="#000" stroke-width="1" stroke-dasharray="2.4 2.1" fill="none"/><path d="M247.35 236.00H250.15" stroke="#000" stroke-width="0.9" fill="none"/><rect x="245.90" y="241.00" width="5.70" height="29.60" fill="#e6a0be" stroke="#7a3a5a" stroke-width="0.9"/><path d="M245.90 245.00H251.60" stroke="#7a3a5a" stroke-width="0.9"/><circle cx="248.75" cy="171.00" r="1.65" fill="none" stroke="#111" stroke-width="0.85"/><path d="M260.62 242.20V247.80" stroke="#000" stroke-width="1" stroke-dasharray="2.4 2.1" fill="none"/><path d="M259.22 242.20H262.02" stroke="#000" stroke-width="0.9" fill="none"/><rect x="257.77" y="247.80" width="5.70" height="22.80" fill="#f2eb88" stroke="#7a7630" stroke-width="0.9"/><rect x="159.75" y="165.9" width="106.80000000000001" height="117.3" fill="none" stroke="#a8a8a8" stroke-width="0.9"/><path d="M159.75 270.70h1.2M266.55 270.70h-1.2M159.75 249.52h1.2M266.55 249.52h-1.2M159.75 228.35h1.2M266.55 228.35h-1.2M159.75 207.18h1.2M266.55 207.18h-1.2M159.75 186.00h1.2M266.55 186.00h-1.2M165.68 283.2v-1.2M165.68 165.9v1.2M177.55 283.2v-1.2M177.55 165.9v1.2M189.42 283.2v-1.2M189.42 165.9v1.2M201.28 283.2v-1.2M201.28 165.9v1.2M213.15 283.2v-1.2M213.15 165.9v1.2M225.02 283.2v-1.2M225.02 165.9v1.2M236.88 283.2v-1.2M236.88 165.9v1.2M248.75 283.2v-1.2M248.75 165.9v1.2M260.62 283.2v-1.2M260.62 165.9v1.2" stroke="#b0b0b0" stroke-width="0.6" fill="none"/><text x="157.55" y="273.20" font-size="6.15" text-anchor="end" fill="#262626" color="#262626">2500</text><text x="157.55" y="252.02" font-size="6.15" text-anchor="end" fill="#262626" color="#262626">2600</text><text x="157.55" y="230.85" font-size="6.15" text-anchor="end" fill="#262626" color="#262626">2700</text><text x="157.55" y="209.68" font-size="6.15" text-anchor="end" fill="#262626" color="#262626">2800</text><text x="157.55" y="188.50" font-size="6.15" text-anchor="end" fill="#262626" color="#262626">2900</text><text transform="translate(168.23,285.40) rotate(-90)" font-size="6.2" text-anchor="end" fill="#262626" color="#262626">IMCOA</text><text transform="translate(180.10,285.40) rotate(-90)" font-size="6.2" text-anchor="end" fill="#262626" color="#262626">COA</text><text transform="translate(191.97,285.40) rotate(-90)" font-size="6.2" text-anchor="end" fill="#262626" color="#262626">DBO</text><text transform="translate(203.83,285.40) rotate(-90)" font-size="6.2" text-anchor="end" fill="#262626" color="#262626">TSO</text><text transform="translate(215.70,285.40) rotate(-90)" font-size="6.2" text-anchor="end" fill="#262626" color="#262626">GWO</text><text transform="translate(227.57,285.40) rotate(-90)" font-size="6.2" text-anchor="end" fill="#262626" color="#262626">AO</text><text transform="translate(239.43,285.40) rotate(-90)" font-size="6.2" text-anchor="end" fill="#262626" color="#262626">SSA</text><text transform="translate(251.30,285.40) rotate(-90)" font-size="6.2" text-anchor="end" fill="#262626" color="#262626">HHO</text><text transform="translate(263.17,285.40) rotate(-90)" font-size="6.2" text-anchor="end" fill="#262626" color="#262626">RIME</text><text x="213.15" y="164.10" font-size="6.9" text-anchor="middle" fill="#1a1a1a" color="#1a1a1a" class="t">CEC2022 F10 Dim=10</text></g>
<g><path d="M304.03 165.9V283.2M315.88 165.9V283.2M327.74 165.9V283.2M339.59 165.9V283.2M351.45 165.9V283.2M363.31 165.9V283.2M375.16 165.9V283.2M387.02 165.9V283.2M398.87 165.9V283.2M298.1 272.40H404.8M298.1 260.35H404.8M298.1 248.30H404.8M298.1 236.25H404.8M298.1 224.20H404.8M298.1 212.15H404.8M298.1 200.10H404.8M298.1 188.05H404.8M298.1 176.00H404.8" stroke="#f0f0f0" stroke-width="0.8" fill="none"/><path d="M301.18 254.40H306.87" stroke="#292854" stroke-width="1.2"/><path d="M301.13 254.40L304.03 252.60L306.93 254.40L304.03 256.20Z" fill="#555" stroke="#2a2a2a" stroke-width="0.8"/><circle cx="304.03" cy="254.40" r="0.6" fill="#999"/><circle cx="304.03" cy="263.40" r="1.65" fill="none" stroke="#111" stroke-width="0.85"/><circle cx="304.03" cy="272.00" r="1.65" fill="none" stroke="#111" stroke-width="0.85"/><rect x="313.04" y="254.40" width="5.69" height="18.00" fill="#d6c6b9" stroke="#6e5e52" stroke-width="0.9"/><path d="M327.74 235.60V254.40" stroke="#000" stroke-width="1" stroke-dasharray="2.4 2.1" fill="none"/><path d="M327.74 272.00V270.00" stroke="#000" stroke-width="1" stroke-dasharray="2.4 2.1" fill="none"/><path d="M326.34 235.60H329.14M326.34 272.00H329.14" stroke="#000" stroke-width="0.9" fill="none"/><rect x="324.89" y="254.40" width="5.69" height="15.60" fill="#d9789c" stroke="#7a2e4f" stroke-width="0.9"/><path d="M324.89 263.00H330.58" stroke="#7a2e4f" stroke-width="0.9"/><circle cx="327.74" cy="171.00" r="1.65" fill="none" stroke="#111" stroke-width="0.85"/><circle cx="327.74" cy="194.00" r="1.65" fill="none" stroke="#111" stroke-width="0.85"/><rect x="336.75" y="254.40" width="5.69" height="18.00" fill="#d6f0d0" stroke="#587a56" stroke-width="0.9"/><path d="M351.45 245.60V248.40" stroke="#000" stroke-width="1" stroke-dasharray="2.4 2.1" fill="none"/><path d="M350.05 245.60H352.85" stroke="#000" stroke-width="0.9" fill="none"/><rect x="348.60" y="248.40" width="5.69" height="5.60" fill="#a5c4a3" stroke="#3f5a3f" stroke-width="0.9"/><path d="M348.60 252.00H354.30" stroke="#3f5a3f" stroke-width="0.9"/><circle cx="351.45" cy="235.00" r="1.65" fill="none" stroke="#111" stroke-width="0.85"/><circle cx="351.45" cy="262.60" r="1.65" fill="none" stroke="#111" stroke-width="0.85"/><circle cx="351.45" cy="263.60" r="1.65" fill="none" stroke="#111" stroke-width="0.85"/><path d="M363.31 252.60V263.40" stroke="#000" stroke-width="1" stroke-dasharray="2.4 2.1" fill="none"/><path d="M361.91 252.60H364.71" stroke="#000" stroke-width="0.9" fill="none"/><rect x="360.46" y="263.40" width="5.69" height="8.00" fill="#f9c6b9" stroke="#a8695e" stroke-width="0.9"/><path d="M360.46 271.00H366.15" stroke="#a8695e" stroke-width="0.9"/><path d="M375.16 235.60V248.40" stroke="#000" stroke-width="1" stroke-dasharray="2.4 2.1" fill="none"/><path d="M375.16 272.00V263.60" stroke="#000" stroke-width="1" stroke-dasharray="2.4 2.1" fill="none"/><path d="M373.76 235.60H376.56M373.76 272.00H376.56" stroke="#000" stroke-width="0.9" fill="none"/><rect x="372.32" y="248.40" width="5.69" height="15.20" fill="#f7da86" stroke="#7a6030" stroke-width="0.9"/><path d="M372.32 254.40H378.01" stroke="#7a6030" stroke-width="0.9"/><circle cx="375.16" cy="172.60" r="1.65" fill="none" stroke="#111" stroke-width="0.85"/><circle cx="375.16" cy="194.40" r="1.65" fill="none" stroke="#111" stroke-width="0.85"/><path d="M387.02 248.40V253.40" stroke="#000" stroke-width="1" stroke-dasharray="2.4 2.1" fill="none"/><path d="M387.02 272.00V263.60" stroke="#000" stroke-width="1" stroke-dasharray="2.4 2.1" fill="none"/><path d="M385.62 248.40H388.42M385.62 272.00H388.42" stroke="#000" stroke-width="0.9" fill="none"/><rect x="384.17" y="253.40" width="5.69" height="10.20" fill="#e6a0be" stroke="#7a3a5a" stroke-width="0.9"/><path d="M384.17 254.60H389.86" stroke="#7a3a5a" stroke-width="0.9"/><path d="M396.03 253.40H401.72" stroke="#43401a" stroke-width="1.2"/><path d="M395.97 253.40L398.87 251.60L401.77 253.40L398.87 255.20Z" fill="#555" stroke="#2a2a2a" stroke-width="0.8"/><circle cx="398.87" cy="253.40" r="0.6" fill="#999"/><circle cx="398.87" cy="263.40" r="1.65" fill="none" stroke="#111" stroke-width="0.85"/><circle cx="398.87" cy="272.00" r="1.65" fill="none" stroke="#111" stroke-width="0.85"/><rect x="298.1" y="165.9" width="106.69999999999999" height="117.3" fill="none" stroke="#a8a8a8" stroke-width="0.9"/><path d="M298.1 272.40h1.2M404.8 272.40h-1.2M298.1 260.35h1.2M404.8 260.35h-1.2M298.1 248.30h1.2M404.8 248.30h-1.2M298.1 236.25h1.2M404.8 236.25h-1.2M298.1 224.20h1.2M404.8 224.20h-1.2M298.1 212.15h1.2M404.8 212.15h-1.2M298.1 200.10h1.2M404.8 200.10h-1.2M298.1 188.05h1.2M404.8 188.05h-1.2M298.1 176.00h1.2M404.8 176.00h-1.2M304.03 283.2v-1.2M304.03 165.9v1.2M315.88 283.2v-1.2M315.88 165.9v1.2M327.74 283.2v-1.2M327.74 165.9v1.2M339.59 283.2v-1.2M339.59 165.9v1.2M351.45 283.2v-1.2M351.45 165.9v1.2M363.31 283.2v-1.2M363.31 165.9v1.2M375.16 283.2v-1.2M375.16 165.9v1.2M387.02 283.2v-1.2M387.02 165.9v1.2M398.87 283.2v-1.2M398.87 165.9v1.2" stroke="#b0b0b0" stroke-width="0.6" fill="none"/><text x="295.90" y="274.90" font-size="6.15" text-anchor="end" fill="#262626" color="#262626">2600</text><text x="295.90" y="262.85" font-size="6.15" text-anchor="end" fill="#262626" color="#262626">2800</text><text x="295.90" y="250.80" font-size="6.15" text-anchor="end" fill="#262626" color="#262626">3000</text><text x="295.90" y="238.75" font-size="6.15" text-anchor="end" fill="#262626" color="#262626">3200</text><text x="295.90" y="226.70" font-size="6.15" text-anchor="end" fill="#262626" color="#262626">3400</text><text x="295.90" y="214.65" font-size="6.15" text-anchor="end" fill="#262626" color="#262626">3600</text><text x="295.90" y="202.60" font-size="6.15" text-anchor="end" fill="#262626" color="#262626">3800</text><text x="295.90" y="190.55" font-size="6.15" text-anchor="end" fill="#262626" color="#262626">4000</text><text x="295.90" y="178.50" font-size="6.15" text-anchor="end" fill="#262626" color="#262626">4200</text><text transform="translate(306.58,285.40) rotate(-90)" font-size="6.2" text-anchor="end" fill="#262626" color="#262626">IMCOA</text><text transform="translate(318.43,285.40) rotate(-90)" font-size="6.2" text-anchor="end" fill="#262626" color="#262626">COA</text><text transform="translate(330.29,285.40) rotate(-90)" font-size="6.2" text-anchor="end" fill="#262626" color="#262626">DBO</text><text transform="translate(342.14,285.40) rotate(-90)" font-size="6.2" text-anchor="end" fill="#262626" color="#262626">TSO</text><text transform="translate(354.00,285.40) rotate(-90)" font-size="6.2" text-anchor="end" fill="#262626" color="#262626">GWO</text><text transform="translate(365.86,285.40) rotate(-90)" font-size="6.2" text-anchor="end" fill="#262626" color="#262626">AO</text><text transform="translate(377.71,285.40) rotate(-90)" font-size="6.2" text-anchor="end" fill="#262626" color="#262626">SSA</text><text transform="translate(389.57,285.40) rotate(-90)" font-size="6.2" text-anchor="end" fill="#262626" color="#262626">HHO</text><text transform="translate(401.42,285.40) rotate(-90)" font-size="6.2" text-anchor="end" fill="#262626" color="#262626">RIME</text><text x="351.45" y="164.10" font-size="6.9" text-anchor="middle" fill="#1a1a1a" color="#1a1a1a" class="t">CEC2022 F11 Dim=10</text></g>
<g><path d="M442.24 165.9V283.2M454.11 165.9V283.2M465.98 165.9V283.2M477.85 165.9V283.2M489.73 165.9V283.2M501.60 165.9V283.2M513.47 165.9V283.2M525.34 165.9V283.2M537.21 165.9V283.2M436.3 254.50H543.15M436.3 225.87H543.15M436.3 197.23H543.15M436.3 168.60H543.15" stroke="#f0f0f0" stroke-width="0.8" fill="none"/><path d="M442.24 272.30V273.40" stroke="#000" stroke-width="1" stroke-dasharray="2.4 2.1" fill="none"/><path d="M442.24 276.70V275.60" stroke="#000" stroke-width="1" stroke-dasharray="2.4 2.1" fill="none"/><path d="M440.84 272.30H443.64M440.84 276.70H443.64" stroke="#000" stroke-width="0.9" fill="none"/><rect x="439.39" y="273.40" width="5.70" height="2.20" fill="#8783cc" stroke="#3c3b7b" stroke-width="0.9"/><path d="M439.39 274.60H445.09" stroke="#4b4a9a" stroke-width="0.9"/><circle cx="442.24" cy="271.00" r="1.65" fill="none" stroke="#111" stroke-width="0.85"/><path d="M454.11 271.30V272.40" stroke="#000" stroke-width="1" stroke-dasharray="2.4 2.1" fill="none"/><path d="M454.11 276.10V275.00" stroke="#000" stroke-width="1" stroke-dasharray="2.4 2.1" fill="none"/><path d="M452.71 271.30H455.51M452.71 276.10H455.51" stroke="#000" stroke-width="0.9" fill="none"/><rect x="451.26" y="272.40" width="5.70" height="2.60" fill="#a7978a" stroke="#584b41" stroke-width="0.9"/><path d="M451.26 273.80H456.96" stroke="#6e5e52" stroke-width="0.9"/><circle cx="454.11" cy="263.40" r="1.65" fill="none" stroke="#111" stroke-width="0.85"/><circle cx="454.11" cy="270.60" r="1.65" fill="none" stroke="#111" stroke-width="0.85"/><path d="M465.98 270.50V271.60" stroke="#000" stroke-width="1" stroke-dasharray="2.4 2.1" fill="none"/><path d="M465.98 275.50V274.40" stroke="#000" stroke-width="1" stroke-dasharray="2.4 2.1" fill="none"/><path d="M464.58 270.50H467.38M464.58 275.50H467.38" stroke="#000" stroke-width="0.9" fill="none"/><rect x="463.13" y="271.60" width="5.70" height="2.80" fill="#ae5679" stroke="#61243f" stroke-width="0.9"/><path d="M463.13 273.00H468.83" stroke="#7a2e4f" stroke-width="0.9"/><circle cx="465.98" cy="254.00" r="1.65" fill="none" stroke="#111" stroke-width="0.85"/><circle cx="465.98" cy="257.40" r="1.65" fill="none" stroke="#111" stroke-width="0.85"/><circle cx="465.98" cy="261.40" r="1.65" fill="none" stroke="#111" stroke-width="0.85"/><circle cx="465.98" cy="266.40" r="1.65" fill="none" stroke="#111" stroke-width="0.85"/><circle cx="465.98" cy="267.60" r="1.65" fill="none" stroke="#111" stroke-width="0.85"/><path d="M477.85 271.90V273.00" stroke="#000" stroke-width="1" stroke-dasharray="2.4 2.1" fill="none"/><path d="M477.85 276.10V275.00" stroke="#000" stroke-width="1" stroke-dasharray="2.4 2.1" fill="none"/><path d="M476.45 271.90H479.25M476.45 276.10H479.25" stroke="#000" stroke-width="0.9" fill="none"/><rect x="475.00" y="273.00" width="5.70" height="2.00" fill="#9dba99" stroke="#466144" stroke-width="0.9"/><path d="M475.00 274.00H480.70" stroke="#587a56" stroke-width="0.9"/><path d="M489.73 272.30V273.40" stroke="#000" stroke-width="1" stroke-dasharray="2.4 2.1" fill="none"/><path d="M489.73 276.70V275.60" stroke="#000" stroke-width="1" stroke-dasharray="2.4 2.1" fill="none"/><path d="M488.33 272.30H491.12M488.33 276.70H491.12" stroke="#000" stroke-width="0.9" fill="none"/><rect x="486.88" y="273.40" width="5.70" height="2.20" fill="#779476" stroke="#324832" stroke-width="0.9"/><path d="M486.88 274.60H492.57" stroke="#3f5a3f" stroke-width="0.9"/><circle cx="489.73" cy="259.00" r="1.65" fill="none" stroke="#111" stroke-width="0.85"/><circle cx="489.73" cy="262.00" r="1.65" fill="none" stroke="#111" stroke-width="0.85"/><circle cx="489.73" cy="269.00" r="1.65" fill="none" stroke="#111" stroke-width="0.85"/><circle cx="489.73" cy="271.60" r="1.65" fill="none" stroke="#111" stroke-width="0.85"/><path d="M501.60 270.50V271.60" stroke="#000" stroke-width="1" stroke-dasharray="2.4 2.1" fill="none"/><path d="M501.60 275.10V274.00" stroke="#000" stroke-width="1" stroke-dasharray="2.4 2.1" fill="none"/><path d="M500.20 270.50H503.00M500.20 275.10H503.00" stroke="#000" stroke-width="0.9" fill="none"/><rect x="498.75" y="271.60" width="5.70" height="2.40" fill="#d49c90" stroke="#86544b" stroke-width="0.9"/><path d="M498.75 273.00H504.45" stroke="#a8695e" stroke-width="0.9"/><circle cx="501.60" cy="266.60" r="1.65" fill="none" stroke="#111" stroke-width="0.85"/><path d="M513.47 273.50V274.60" stroke="#000" stroke-width="1" stroke-dasharray="2.4 2.1" fill="none"/><path d="M513.47 277.10V276.00" stroke="#000" stroke-width="1" stroke-dasharray="2.4 2.1" fill="none"/><path d="M512.07 273.50H514.87M512.07 277.10H514.87" stroke="#000" stroke-width="0.9" fill="none"/><rect x="510.62" y="274.60" width="5.70" height="1.40" fill="#bea35f" stroke="#614c26" stroke-width="0.9"/><path d="M510.62 275.40H516.32" stroke="#7a6030" stroke-width="0.9"/><circle cx="513.47" cy="277.40" r="1.65" fill="none" stroke="#111" stroke-width="0.85"/><path d="M525.34 205.60V239.00" stroke="#000" stroke-width="1" stroke-dasharray="2.4 2.1" fill="none"/><path d="M525.34 274.00V268.00" stroke="#000" stroke-width="1" stroke-dasharray="2.4 2.1" fill="none"/><path d="M523.94 205.60H526.74M523.94 274.00H526.74" stroke="#000" stroke-width="0.9" fill="none"/><rect x="522.49" y="239.00" width="5.70" height="29.00" fill="#e6a0be" stroke="#7a3a5a" stroke-width="0.9"/><path d="M522.49 260.40H528.19" stroke="#7a3a5a" stroke-width="0.9"/><circle cx="525.34" cy="171.00" r="1.65" fill="none" stroke="#111" stroke-width="0.85"/><path d="M537.21 271.90V273.00" stroke="#000" stroke-width="1" stroke-dasharray="2.4 2.1" fill="none"/><path d="M537.21 276.10V275.00" stroke="#000" stroke-width="1" stroke-dasharray="2.4 2.1" fill="none"/><path d="M535.81 271.90H538.61M535.81 276.10H538.61" stroke="#000" stroke-width="0.9" fill="none"/><rect x="534.36" y="273.00" width="5.70" height="2.00" fill="#bcb660" stroke="#615e26" stroke-width="0.9"/><path d="M534.36 274.00H540.06" stroke="#7a7630" stroke-width="0.9"/><circle cx="537.21" cy="270.60" r="1.65" fill="none" stroke="#111" stroke-width="0.85"/><circle cx="537.21" cy="277.60" r="1.65" fill="none" stroke="#111" stroke-width="0.85"/><rect x="436.3" y="165.9" width="106.84999999999997" height="117.3" fill="none" stroke="#a8a8a8" stroke-width="0.9"/><path d="M436.3 254.50h1.2M543.15 254.50h-1.2M436.3 225.87h1.2M543.15 225.87h-1.2M436.3 197.23h1.2M543.15 197.23h-1.2M436.3 168.60h1.2M543.15 168.60h-1.2M442.24 283.2v-1.2M442.24 165.9v1.2M454.11 283.2v-1.2M454.11 165.9v1.2M465.98 283.2v-1.2M465.98 165.9v1.2M477.85 283.2v-1.2M477.85 165.9v1.2M489.73 283.2v-1.2M489.73 165.9v1.2M501.60 283.2v-1.2M501.60 165.9v1.2M513.47 283.2v-1.2M513.47 165.9v1.2M525.34 283.2v-1.2M525.34 165.9v1.2M537.21 283.2v-1.2M537.21 165.9v1.2" stroke="#b0b0b0" stroke-width="0.6" fill="none"/><text x="434.10" y="257.00" font-size="6.15" text-anchor="end" fill="#262626" color="#262626">2900</text><text x="434.10" y="228.37" font-size="6.15" text-anchor="end" fill="#262626" color="#262626">2950</text><text x="434.10" y="199.73" font-size="6.15" text-anchor="end" fill="#262626" color="#262626">3000</text><text x="434.10" y="171.10" font-size="6.15" text-anchor="end" fill="#262626" color="#262626">3050</text><text transform="translate(444.79,285.40) rotate(-90)" font-size="6.2" text-anchor="end" fill="#262626" color="#262626">IMCOA</text><text transform="translate(456.66,285.40) rotate(-90)" font-size="6.2" text-anchor="end" fill="#262626" color="#262626">COA</text><text transform="translate(468.53,285.40) rotate(-90)" font-size="6.2" text-anchor="end" fill="#262626" color="#262626">DBO</text><text transform="translate(480.40,285.40) rotate(-90)" font-size="6.2" text-anchor="end" fill="#262626" color="#262626">TSO</text><text transform="translate(492.28,285.40) rotate(-90)" font-size="6.2" text-anchor="end" fill="#262626" color="#262626">GWO</text><text transform="translate(504.15,285.40) rotate(-90)" font-size="6.2" text-anchor="end" fill="#262626" color="#262626">AO</text><text transform="translate(516.02,285.40) rotate(-90)" font-size="6.2" text-anchor="end" fill="#262626" color="#262626">SSA</text><text transform="translate(527.89,285.40) rotate(-90)" font-size="6.2" text-anchor="end" fill="#262626" color="#262626">HHO</text><text transform="translate(539.76,285.40) rotate(-90)" font-size="6.2" text-anchor="end" fill="#262626" color="#262626">RIME</text><text x="489.73" y="164.10" font-size="6.9" text-anchor="middle" fill="#1a1a1a" color="#1a1a1a" class="t">CEC2022 F12 Dim=10</text></g>
<g><path d="M27.74 318.0V435.3M39.61 318.0V435.3M51.48 318.0V435.3M63.35 318.0V435.3M75.23 318.0V435.3M87.10 318.0V435.3M98.97 318.0V435.3M110.84 318.0V435.3M122.71 318.0V435.3M21.8 430.60H128.65M21.8 407.25H128.65M21.8 383.90H128.65M21.8 360.55H128.65M21.8 337.20H128.65" stroke="#f0f0f0" stroke-width="0.8" fill="none"/><path d="M24.89 429.60H30.59" stroke="#292854" stroke-width="1.2"/><path d="M24.84 429.60L27.74 427.80L30.64 429.60L27.74 431.40Z" fill="#555" stroke="#2a2a2a" stroke-width="0.8"/><circle cx="27.74" cy="429.60" r="0.6" fill="#999"/><path d="M39.61 345.40V374.00" stroke="#000" stroke-width="1" stroke-dasharray="2.4 2.1" fill="none"/><path d="M39.61 407.00V395.60" stroke="#000" stroke-width="1" stroke-dasharray="2.4 2.1" fill="none"/><path d="M38.21 345.40H41.01M38.21 407.00H41.01" stroke="#000" stroke-width="0.9" fill="none"/><rect x="36.76" y="374.00" width="5.70" height="21.60" fill="#d6c6b9" stroke="#6e5e52" stroke-width="0.9"/><path d="M36.76 385.00H42.46" stroke="#6e5e52" stroke-width="0.9"/><circle cx="39.61" cy="332.40" r="1.65" fill="none" stroke="#111" stroke-width="0.85"/><path d="M51.48 374.00V389.60" stroke="#000" stroke-width="1" stroke-dasharray="2.4 2.1" fill="none"/><path d="M51.48 418.40V409.60" stroke="#000" stroke-width="1" stroke-dasharray="2.4 2.1" fill="none"/><path d="M50.08 374.00H52.88M50.08 418.40H52.88" stroke="#000" stroke-width="0.9" fill="none"/><rect x="48.63" y="389.60" width="5.70" height="20.00" fill="#d9789c" stroke="#7a2e4f" stroke-width="0.9"/><path d="M48.63 403.00H54.33" stroke="#7a2e4f" stroke-width="0.9"/><path d="M63.35 416.00V421.40" stroke="#000" stroke-width="1" stroke-dasharray="2.4 2.1" fill="none"/><path d="M63.35 427.40V425.00" stroke="#000" stroke-width="1" stroke-dasharray="2.4 2.1" fill="none"/><path d="M61.95 416.00H64.75M61.95 427.40H64.75" stroke="#000" stroke-width="0.9" fill="none"/><rect x="60.50" y="421.40" width="5.70" height="3.60" fill="#d6f0d0" stroke="#587a56" stroke-width="0.9"/><path d="M60.50 423.00H66.20" stroke="#587a56" stroke-width="0.9"/><path d="M75.23 402.40V410.40" stroke="#000" stroke-width="1" stroke-dasharray="2.4 2.1" fill="none"/><path d="M75.23 427.00V422.00" stroke="#000" stroke-width="1" stroke-dasharray="2.4 2.1" fill="none"/><path d="M73.83 402.40H76.63M73.83 427.00H76.63" stroke="#000" stroke-width="0.9" fill="none"/><rect x="72.38" y="410.40" width="5.70" height="11.60" fill="#a5c4a3" stroke="#3f5a3f" stroke-width="0.9"/><path d="M72.38 417.40H78.07" stroke="#3f5a3f" stroke-width="0.9"/><path d="M87.10 323.00V353.40" stroke="#000" stroke-width="1" stroke-dasharray="2.4 2.1" fill="none"/><path d="M87.10 403.00V384.40" stroke="#000" stroke-width="1" stroke-dasharray="2.4 2.1" fill="none"/><path d="M85.70 323.00H88.50M85.70 403.00H88.50" stroke="#000" stroke-width="0.9" fill="none"/><rect x="84.25" y="353.40" width="5.70" height="31.00" fill="#f9c6b9" stroke="#a8695e" stroke-width="0.9"/><path d="M84.25 367.60H89.95" stroke="#a8695e" stroke-width="0.9"/><path d="M96.12 429.10H101.82" stroke="#43341a" stroke-width="1.2"/><path d="M110.84 410.60V412.60" stroke="#000" stroke-width="1" stroke-dasharray="2.4 2.1" fill="none"/><path d="M110.84 424.40V418.40" stroke="#000" stroke-width="1" stroke-dasharray="2.4 2.1" fill="none"/><path d="M109.44 410.60H112.24M109.44 424.40H112.24" stroke="#000" stroke-width="0.9" fill="none"/><rect x="107.99" y="412.60" width="5.70" height="5.80" fill="#e6a0be" stroke="#7a3a5a" stroke-width="0.9"/><path d="M107.99 415.60H113.69" stroke="#7a3a5a" stroke-width="0.9"/><circle cx="110.84" cy="401.40" r="1.65" fill="none" stroke="#111" stroke-width="0.85"/><circle cx="110.84" cy="403.00" r="1.65" fill="none" stroke="#111" stroke-width="0.85"/><circle cx="110.84" cy="405.00" r="1.65" fill="none" stroke="#111" stroke-width="0.85"/><path d="M119.86 429.10H125.56" stroke="#43401a" stroke-width="1.2"/><path d="M119.81 429.10L122.71 427.30L125.61 429.10L122.71 430.90Z" fill="#555" stroke="#2a2a2a" stroke-width="0.8"/><circle cx="122.71" cy="429.10" r="0.6" fill="#999"/><rect x="21.8" y="318.0" width="106.85000000000001" height="117.3" fill="none" stroke="#a8a8a8" stroke-width="0.9"/><path d="M21.8 430.60h1.2M128.65 430.60h-1.2M21.8 407.25h1.2M128.65 407.25h-1.2M21.8 383.90h1.2M128.65 383.90h-1.2M21.8 360.55h1.2M128.65 360.55h-1.2M21.8 337.20h1.2M128.65 337.20h-1.2M27.74 435.3v-1.2M27.74 318.0v1.2M39.61 435.3v-1.2M39.61 318.0v1.2M51.48 435.3v-1.2M51.48 318.0v1.2M63.35 435.3v-1.2M63.35 318.0v1.2M75.23 435.3v-1.2M75.23 318.0v1.2M87.10 435.3v-1.2M87.10 318.0v1.2M98.97 435.3v-1.2M98.97 318.0v1.2M110.84 435.3v-1.2M110.84 318.0v1.2M122.71 435.3v-1.2M122.71 318.0v1.2" stroke="#b0b0b0" stroke-width="0.6" fill="none"/><text x="19.60" y="433.10" font-size="6.15" text-anchor="end" fill="#262626" color="#262626">0</text><text x="19.60" y="409.75" font-size="6.15" text-anchor="end" fill="#262626" color="#262626">2</text><text x="19.60" y="386.40" font-size="6.15" text-anchor="end" fill="#262626" color="#262626">4</text><text x="19.60" y="363.05" font-size="6.15" text-anchor="end" fill="#262626" color="#262626">6</text><text x="19.60" y="339.70" font-size="6.15" text-anchor="end" fill="#262626" color="#262626">8</text><text transform="translate(30.29,437.50) rotate(-90)" font-size="6.2" text-anchor="end" fill="#262626" color="#262626">IMCOA</text><text transform="translate(42.16,437.50) rotate(-90)" font-size="6.2" text-anchor="end" fill="#262626" color="#262626">COA</text><text transform="translate(54.03,437.50) rotate(-90)" font-size="6.2" text-anchor="end" fill="#262626" color="#262626">DBO</text><text transform="translate(65.90,437.50) rotate(-90)" font-size="6.2" text-anchor="end" fill="#262626" color="#262626">TSO</text><text transform="translate(77.78,437.50) rotate(-90)" font-size="6.2" text-anchor="end" fill="#262626" color="#262626">GWO</text><text transform="translate(89.65,437.50) rotate(-90)" font-size="6.2" text-anchor="end" fill="#262626" color="#262626">AO</text><text transform="translate(101.52,437.50) rotate(-90)" font-size="6.2" text-anchor="end" fill="#262626" color="#262626">SSA</text><text transform="translate(113.39,437.50) rotate(-90)" font-size="6.2" text-anchor="end" fill="#262626" color="#262626">HHO</text><text transform="translate(125.26,437.50) rotate(-90)" font-size="6.2" text-anchor="end" fill="#262626" color="#262626">RIME</text><text x="75.23" y="316.20" font-size="6.9" text-anchor="middle" fill="#1a1a1a" color="#1a1a1a" class="t">CEC2022 F1 Dim=20</text><text x="22.70" y="315.80" font-size="5.6" fill="#555" style="stroke:none">×</text><text x="26.70" y="316.60" font-size="6.6" fill="#262626" color="#262626">10</text><text x="34.80" y="313.20" font-size="4.4" fill="#262626">4</text></g>
<g><path d="M165.68 318.0V435.3M177.55 318.0V435.3M189.42 318.0V435.3M201.28 318.0V435.3M213.15 318.0V435.3M225.02 318.0V435.3M236.88 318.0V435.3M248.75 318.0V435.3M260.62 318.0V435.3M159.75 430.00H266.55M159.75 410.46H266.55M159.75 390.92H266.55M159.75 371.38H266.55M159.75 351.84H266.55M159.75 332.30H266.55" stroke="#f0f0f0" stroke-width="0.8" fill="none"/><path d="M165.68 401.60V410.60" stroke="#000" stroke-width="1" stroke-dasharray="2.4 2.1" fill="none"/><path d="M165.68 429.40V418.40" stroke="#000" stroke-width="1" stroke-dasharray="2.4 2.1" fill="none"/><path d="M164.28 401.60H167.08M164.28 429.40H167.08" stroke="#000" stroke-width="0.9" fill="none"/><rect x="162.84" y="410.60" width="5.70" height="7.80" fill="#b9b3f5" stroke="#4b4a9a" stroke-width="0.9"/><path d="M177.55 399.60V400.40" stroke="#000" stroke-width="1" stroke-dasharray="2.4 2.1" fill="none"/><path d="M177.55 411.40V406.40" stroke="#000" stroke-width="1" stroke-dasharray="2.4 2.1" fill="none"/><path d="M176.15 399.60H178.95M176.15 411.40H178.95" stroke="#000" stroke-width="0.9" fill="none"/><rect x="174.70" y="400.40" width="5.70" height="6.00" fill="#d6c6b9" stroke="#6e5e52" stroke-width="0.9"/><path d="M174.70 403.40H180.40" stroke="#6e5e52" stroke-width="0.9"/><circle cx="177.55" cy="372.00" r="1.65" fill="none" stroke="#111" stroke-width="0.85"/><circle cx="177.55" cy="373.60" r="1.65" fill="none" stroke="#111" stroke-width="0.85"/><circle cx="177.55" cy="383.60" r="1.65" fill="none" stroke="#111" stroke-width="0.85"/><circle cx="177.55" cy="385.40" r="1.65" fill="none" stroke="#111" stroke-width="0.85"/><path d="M189.42 396.40V399.60" stroke="#000" stroke-width="1" stroke-dasharray="2.4 2.1" fill="none"/><path d="M189.42 423.00V410.40" stroke="#000" stroke-width="1" stroke-dasharray="2.4 2.1" fill="none"/><path d="M188.02 396.40H190.82M188.02 423.00H190.82" stroke="#000" stroke-width="0.9" fill="none"/><rect x="186.57" y="399.60" width="5.70" height="10.80" fill="#d9789c" stroke="#7a2e4f" stroke-width="0.9"/><path d="M186.57 404.00H192.26" stroke="#7a2e4f" stroke-width="0.9"/><circle cx="189.42" cy="323.00" r="1.65" fill="none" stroke="#111" stroke-width="0.85"/><circle cx="189.42" cy="331.60" r="1.65" fill="none" stroke="#111" stroke-width="0.85"/><circle cx="189.42" cy="345.00" r="1.65" fill="none" stroke="#111" stroke-width="0.85"/><circle cx="189.42" cy="376.00" r="1.65" fill="none" stroke="#111" stroke-width="0.85"/><circle cx="189.42" cy="383.00" r="1.65" fill="none" stroke="#111" stroke-width="0.85"/><circle cx="189.42" cy="427.00" r="1.65" fill="none" stroke="#111" stroke-width="0.85"/><path d="M201.28 416.00V411.00" stroke="#000" stroke-width="1" stroke-dasharray="2.4 2.1" fill="none"/><path d="M199.88 416.00H202.68" stroke="#000" stroke-width="0.9" fill="none"/><rect x="198.44" y="401.40" width="5.70" height="9.60" fill="#d6f0d0" stroke="#587a56" stroke-width="0.9"/><path d="M198.44 402.00H204.13" stroke="#587a56" stroke-width="0.9"/><circle cx="201.28" cy="381.00" r="1.65" fill="none" stroke="#111" stroke-width="0.85"/><circle cx="201.28" cy="429.60" r="1.65" fill="none" stroke="#111" stroke-width="0.85"/><path d="M213.15 367.60V385.40" stroke="#000" stroke-width="1" stroke-dasharray="2.4 2.1" fill="none"/><path d="M213.15 408.00V400.40" stroke="#000" stroke-width="1" stroke-dasharray="2.4 2.1" fill="none"/><path d="M211.75 367.60H214.55M211.75 408.00H214.55" stroke="#000" stroke-width="0.9" fill="none"/><rect x="210.30" y="385.40" width="5.70" height="15.00" fill="#a5c4a3" stroke="#3f5a3f" stroke-width="0.9"/><path d="M210.30 394.40H216.00" stroke="#3f5a3f" stroke-width="0.9"/><circle cx="213.15" cy="356.60" r="1.65" fill="none" stroke="#111" stroke-width="0.85"/><circle cx="213.15" cy="361.00" r="1.65" fill="none" stroke="#111" stroke-width="0.85"/><path d="M225.02 327.60V360.40" stroke="#000" stroke-width="1" stroke-dasharray="2.4 2.1" fill="none"/><path d="M225.02 403.00V389.60" stroke="#000" stroke-width="1" stroke-dasharray="2.4 2.1" fill="none"/><path d="M223.62 327.60H226.42M223.62 403.00H226.42" stroke="#000" stroke-width="0.9" fill="none"/><rect x="222.17" y="360.40" width="5.70" height="29.20" fill="#f9c6b9" stroke="#a8695e" stroke-width="0.9"/><path d="M222.17 374.40H227.86" stroke="#a8695e" stroke-width="0.9"/><path d="M236.88 400.40V403.40" stroke="#000" stroke-width="1" stroke-dasharray="2.4 2.1" fill="none"/><path d="M236.88 416.00V411.00" stroke="#000" stroke-width="1" stroke-dasharray="2.4 2.1" fill="none"/><path d="M235.48 400.40H238.28M235.48 416.00H238.28" stroke="#000" stroke-width="0.9" fill="none"/><rect x="234.04" y="403.40" width="5.70" height="7.60" fill="#f7da86" stroke="#7a6030" stroke-width="0.9"/><circle cx="236.88" cy="379.00" r="1.65" fill="none" stroke="#111" stroke-width="0.85"/><path d="M248.75 338.40V367.00" stroke="#000" stroke-width="1" stroke-dasharray="2.4 2.1" fill="none"/><path d="M248.75 406.40V393.60" stroke="#000" stroke-width="1" stroke-dasharray="2.4 2.1" fill="none"/><path d="M247.35 338.40H250.15M247.35 406.40H250.15" stroke="#000" stroke-width="0.9" fill="none"/><rect x="245.90" y="367.00" width="5.70" height="26.60" fill="#e6a0be" stroke="#7a3a5a" stroke-width="0.9"/><path d="M245.90 379.00H251.60" stroke="#7a3a5a" stroke-width="0.9"/><path d="M257.77 410.40H263.46" stroke="#43401a" stroke-width="1.2"/><circle cx="260.62" cy="399.00" r="1.65" fill="none" stroke="#111" stroke-width="0.85"/><circle cx="260.62" cy="400.50" r="1.65" fill="none" stroke="#111" stroke-width="0.85"/><circle cx="260.62" cy="402.00" r="1.65" fill="none" stroke="#111" stroke-width="0.85"/><circle cx="260.62" cy="412.00" r="1.65" fill="none" stroke="#111" stroke-width="0.85"/><circle cx="260.62" cy="427.40" r="1.65" fill="none" stroke="#111" stroke-width="0.85"/><rect x="159.75" y="318.0" width="106.80000000000001" height="117.3" fill="none" stroke="#a8a8a8" stroke-width="0.9"/><path d="M159.75 430.00h1.2M266.55 430.00h-1.2M159.75 410.46h1.2M266.55 410.46h-1.2M159.75 390.92h1.2M266.55 390.92h-1.2M159.75 371.38h1.2M266.55 371.38h-1.2M159.75 351.84h1.2M266.55 351.84h-1.2M159.75 332.30h1.2M266.55 332.30h-1.2M165.68 435.3v-1.2M165.68 318.0v1.2M177.55 435.3v-1.2M177.55 318.0v1.2M189.42 435.3v-1.2M189.42 318.0v1.2M201.28 435.3v-1.2M201.28 318.0v1.2M213.15 435.3v-1.2M213.15 318.0v1.2M225.02 435.3v-1.2M225.02 318.0v1.2M236.88 435.3v-1.2M236.88 318.0v1.2M248.75 435.3v-1.2M248.75 318.0v1.2M260.62 435.3v-1.2M260.62 318.0v1.2" stroke="#b0b0b0" stroke-width="0.6" fill="none"/><text x="157.55" y="432.50" font-size="6.15" text-anchor="end" fill="#262626" color="#262626">400</text><text x="157.55" y="412.96" font-size="6.15" text-anchor="end" fill="#262626" color="#262626">450</text><text x="157.55" y="393.42" font-size="6.15" text-anchor="end" fill="#262626" color="#262626">500</text><text x="157.55" y="373.88" font-size="6.15" text-anchor="end" fill="#262626" color="#262626">550</text><text x="157.55" y="354.34" font-size="6.15" text-anchor="end" fill="#262626" color="#262626">600</text><text x="157.55" y="334.80" font-size="6.15" text-anchor="end" fill="#262626" color="#262626">650</text><text transform="translate(168.23,437.50) rotate(-90)" font-size="6.2" text-anchor="end" fill="#262626" color="#262626">IMCOA</text><text transform="translate(180.10,437.50) rotate(-90)" font-size="6.2" text-anchor="end" fill="#262626" color="#262626">COA</text><text transform="translate(191.97,437.50) rotate(-90)" font-size="6.2" text-anchor="end" fill="#262626" color="#262626">DBO</text><text transform="translate(203.83,437.50) rotate(-90)" font-size="6.2" text-anchor="end" fill="#262626" color="#262626">TSO</text><text transform="translate(215.70,437.50) rotate(-90)" font-size="6.2" text-anchor="end" fill="#262626" color="#262626">GWO</text><text transform="translate(227.57,437.50) rotate(-90)" font-size="6.2" text-anchor="end" fill="#262626" color="#262626">AO</text><text transform="translate(239.43,437.50) rotate(-90)" font-size="6.2" text-anchor="end" fill="#262626" color="#262626">SSA</text><text transform="translate(251.30,437.50) rotate(-90)" font-size="6.2" text-anchor="end" fill="#262626" color="#262626">HHO</text><text transform="translate(263.17,437.50) rotate(-90)" font-size="6.2" text-anchor="end" fill="#262626" color="#262626">RIME</text><text x="213.15" y="316.20" font-size="6.9" text-anchor="middle" fill="#1a1a1a" color="#1a1a1a" class="t">CEC2022 F2 Dim=20</text></g>
<g><path d="M304.03 318.0V435.3M315.88 318.0V435.3M327.74 318.0V435.3M339.59 318.0V435.3M351.45 318.0V435.3M363.31 318.0V435.3M375.16 318.0V435.3M387.02 318.0V435.3M398.87 318.0V435.3M298.1 429.60H404.8M298.1 416.93H404.8M298.1 404.25H404.8M298.1 391.57H404.8M298.1 378.90H404.8M298.1 366.23H404.8M298.1 353.55H404.8M298.1 340.88H404.8M298.1 328.20H404.8" stroke="#f0f0f0" stroke-width="0.8" fill="none"/><path d="M301.18 429.40H306.87" stroke="#292854" stroke-width="1.2"/><path d="M315.88 343.60V373.40" stroke="#000" stroke-width="1" stroke-dasharray="2.4 2.1" fill="none"/><path d="M315.88 428.40V411.40" stroke="#000" stroke-width="1" stroke-dasharray="2.4 2.1" fill="none"/><path d="M314.48 343.60H317.28M314.48 428.40H317.28" stroke="#000" stroke-width="0.9" fill="none"/><rect x="313.04" y="373.40" width="5.69" height="38.00" fill="#d6c6b9" stroke="#6e5e52" stroke-width="0.9"/><path d="M313.04 401.40H318.73" stroke="#6e5e52" stroke-width="0.9"/><path d="M327.74 379.00V393.00" stroke="#000" stroke-width="1" stroke-dasharray="2.4 2.1" fill="none"/><path d="M327.74 421.00V411.60" stroke="#000" stroke-width="1" stroke-dasharray="2.4 2.1" fill="none"/><path d="M326.34 379.00H329.14M326.34 421.00H329.14" stroke="#000" stroke-width="0.9" fill="none"/><rect x="324.89" y="393.00" width="5.69" height="18.60" fill="#d9789c" stroke="#7a2e4f" stroke-width="0.9"/><path d="M324.89 404.40H330.58" stroke="#7a2e4f" stroke-width="0.9"/><path d="M339.59 370.00V387.40" stroke="#000" stroke-width="1" stroke-dasharray="2.4 2.1" fill="none"/><path d="M339.59 409.00V402.00" stroke="#000" stroke-width="1" stroke-dasharray="2.4 2.1" fill="none"/><path d="M338.19 370.00H340.99M338.19 409.00H340.99" stroke="#000" stroke-width="0.9" fill="none"/><rect x="336.75" y="387.40" width="5.69" height="14.60" fill="#d6f0d0" stroke="#587a56" stroke-width="0.9"/><path d="M336.75 395.40H342.44" stroke="#587a56" stroke-width="0.9"/><rect x="348.60" y="423.60" width="5.69" height="4.00" fill="#a5c4a3" stroke="#3f5a3f" stroke-width="0.9"/><path d="M348.60 425.60H354.30" stroke="#3f5a3f" stroke-width="0.9"/><circle cx="351.45" cy="417.00" r="1.65" fill="none" stroke="#111" stroke-width="0.85"/><circle cx="351.45" cy="418.00" r="1.65" fill="none" stroke="#111" stroke-width="0.85"/><path d="M363.31 355.60V366.60" stroke="#000" stroke-width="1" stroke-dasharray="2.4 2.1" fill="none"/><path d="M363.31 392.60V383.60" stroke="#000" stroke-width="1" stroke-dasharray="2.4 2.1" fill="none"/><path d="M361.91 355.60H364.71M361.91 392.60H364.71" stroke="#000" stroke-width="0.9" fill="none"/><rect x="360.46" y="366.60" width="5.69" height="17.00" fill="#f9c6b9" stroke="#a8695e" stroke-width="0.9"/><path d="M360.46 375.00H366.15" stroke="#a8695e" stroke-width="0.9"/><path d="M375.16 345.00V370.60" stroke="#000" stroke-width="1" stroke-dasharray="2.4 2.1" fill="none"/><path d="M375.16 416.00V401.40" stroke="#000" stroke-width="1" stroke-dasharray="2.4 2.1" fill="none"/><path d="M373.76 345.00H376.56M373.76 416.00H376.56" stroke="#000" stroke-width="0.9" fill="none"/><rect x="372.32" y="370.60" width="5.69" height="30.80" fill="#f7da86" stroke="#7a6030" stroke-width="0.9"/><path d="M372.32 392.40H378.01" stroke="#7a6030" stroke-width="0.9"/><path d="M387.02 323.00V342.60" stroke="#000" stroke-width="1" stroke-dasharray="2.4 2.1" fill="none"/><path d="M387.02 372.00V356.60" stroke="#000" stroke-width="1" stroke-dasharray="2.4 2.1" fill="none"/><path d="M385.62 323.00H388.42M385.62 372.00H388.42" stroke="#000" stroke-width="0.9" fill="none"/><rect x="384.17" y="342.60" width="5.69" height="14.00" fill="#e6a0be" stroke="#7a3a5a" stroke-width="0.9"/><path d="M384.17 351.40H389.86" stroke="#7a3a5a" stroke-width="0.9"/><path d="M398.87 423.00V425.60" stroke="#000" stroke-width="1" stroke-dasharray="2.4 2.1" fill="none"/><path d="M397.47 423.00H400.27" stroke="#000" stroke-width="0.9" fill="none"/><rect x="396.03" y="425.60" width="5.69" height="3.00" fill="#f2eb88" stroke="#7a7630" stroke-width="0.9"/><path d="M396.03 427.00H401.72" stroke="#7a7630" stroke-width="0.9"/><rect x="298.1" y="318.0" width="106.69999999999999" height="117.3" fill="none" stroke="#a8a8a8" stroke-width="0.9"/><path d="M298.1 429.60h1.2M404.8 429.60h-1.2M298.1 416.93h1.2M404.8 416.93h-1.2M298.1 404.25h1.2M404.8 404.25h-1.2M298.1 391.57h1.2M404.8 391.57h-1.2M298.1 378.90h1.2M404.8 378.90h-1.2M298.1 366.23h1.2M404.8 366.23h-1.2M298.1 353.55h1.2M404.8 353.55h-1.2M298.1 340.88h1.2M404.8 340.88h-1.2M298.1 328.20h1.2M404.8 328.20h-1.2M304.03 435.3v-1.2M304.03 318.0v1.2M315.88 435.3v-1.2M315.88 318.0v1.2M327.74 435.3v-1.2M327.74 318.0v1.2M339.59 435.3v-1.2M339.59 318.0v1.2M351.45 435.3v-1.2M351.45 318.0v1.2M363.31 435.3v-1.2M363.31 318.0v1.2M375.16 435.3v-1.2M375.16 318.0v1.2M387.02 435.3v-1.2M387.02 318.0v1.2M398.87 435.3v-1.2M398.87 318.0v1.2" stroke="#b0b0b0" stroke-width="0.6" fill="none"/><text x="295.90" y="432.10" font-size="6.15" text-anchor="end" fill="#262626" color="#262626">600</text><text x="295.90" y="419.43" font-size="6.15" text-anchor="end" fill="#262626" color="#262626">610</text><text x="295.90" y="406.75" font-size="6.15" text-anchor="end" fill="#262626" color="#262626">620</text><text x="295.90" y="394.07" font-size="6.15" text-anchor="end" fill="#262626" color="#262626">630</text><text x="295.90" y="381.40" font-size="6.15" text-anchor="end" fill="#262626" color="#262626">640</text><text x="295.90" y="368.73" font-size="6.15" text-anchor="end" fill="#262626" color="#262626">650</text><text x="295.90" y="356.05" font-size="6.15" text-anchor="end" fill="#262626" color="#262626">660</text><text x="295.90" y="343.38" font-size="6.15" text-anchor="end" fill="#262626" color="#262626">670</text><text x="295.90" y="330.70" font-size="6.15" text-anchor="end" fill="#262626" color="#262626">680</text><text transform="translate(306.58,437.50) rotate(-90)" font-size="6.2" text-anchor="end" fill="#262626" color="#262626">IMCOA</text><text transform="translate(318.43,437.50) rotate(-90)" font-size="6.2" text-anchor="end" fill="#262626" color="#262626">COA</text><text transform="translate(330.29,437.50) rotate(-90)" font-size="6.2" text-anchor="end" fill="#262626" color="#262626">DBO</text><text transform="translate(342.14,437.50) rotate(-90)" font-size="6.2" text-anchor="end" fill="#262626" color="#262626">TSO</text><text transform="translate(354.00,437.50) rotate(-90)" font-size="6.2" text-anchor="end" fill="#262626" color="#262626">GWO</text><text transform="translate(365.86,437.50) rotate(-90)" font-size="6.2" text-anchor="end" fill="#262626" color="#262626">AO</text><text transform="translate(377.71,437.50) rotate(-90)" font-size="6.2" text-anchor="end" fill="#262626" color="#262626">SSA</text><text transform="translate(389.57,437.50) rotate(-90)" font-size="6.2" text-anchor="end" fill="#262626" color="#262626">HHO</text><text transform="translate(401.42,437.50) rotate(-90)" font-size="6.2" text-anchor="end" fill="#262626" color="#262626">RIME</text><text x="351.45" y="316.20" font-size="6.9" text-anchor="middle" fill="#1a1a1a" color="#1a1a1a" class="t">CEC2022 F3 Dim=20</text></g>
<g><path d="M442.24 318.0V435.3M454.11 318.0V435.3M465.98 318.0V435.3M477.85 318.0V435.3M489.73 318.0V435.3M501.60 318.0V435.3M513.47 318.0V435.3M525.34 318.0V435.3M537.21 318.0V435.3M436.3 430.50H543.15M436.3 413.40H543.15M436.3 396.30H543.15M436.3 379.20H543.15M436.3 362.10H543.15M436.3 345.00H543.15M436.3 327.90H543.15" stroke="#f0f0f0" stroke-width="0.8" fill="none"/><path d="M442.24 392.00V402.00" stroke="#000" stroke-width="1" stroke-dasharray="2.4 2.1" fill="none"/><path d="M442.24 429.60V414.60" stroke="#000" stroke-width="1" stroke-dasharray="2.4 2.1" fill="none"/><path d="M440.84 392.00H443.64M440.84 429.60H443.64" stroke="#000" stroke-width="0.9" fill="none"/><rect x="439.39" y="402.00" width="5.70" height="12.60" fill="#b9b3f5" stroke="#4b4a9a" stroke-width="0.9"/><path d="M439.39 407.00H445.09" stroke="#4b4a9a" stroke-width="0.9"/><path d="M454.11 362.00V366.40" stroke="#000" stroke-width="1" stroke-dasharray="2.4 2.1" fill="none"/><path d="M454.11 380.00V375.60" stroke="#000" stroke-width="1" stroke-dasharray="2.4 2.1" fill="none"/><path d="M452.71 362.00H455.51M452.71 380.00H455.51" stroke="#000" stroke-width="0.9" fill="none"/><rect x="451.26" y="366.40" width="5.70" height="9.20" fill="#d6c6b9" stroke="#6e5e52" stroke-width="0.9"/><path d="M451.26 371.00H456.96" stroke="#6e5e52" stroke-width="0.9"/><circle cx="454.11" cy="390.00" r="1.65" fill="none" stroke="#111" stroke-width="0.85"/><circle cx="454.11" cy="393.00" r="1.65" fill="none" stroke="#111" stroke-width="0.85"/><circle cx="454.11" cy="396.00" r="1.65" fill="none" stroke="#111" stroke-width="0.85"/><path d="M465.98 323.00V337.40" stroke="#000" stroke-width="1" stroke-dasharray="2.4 2.1" fill="none"/><path d="M465.98 413.00V376.00" stroke="#000" stroke-width="1" stroke-dasharray="2.4 2.1" fill="none"/><path d="M464.58 323.00H467.38M464.58 413.00H467.38" stroke="#000" stroke-width="0.9" fill="none"/><rect x="463.13" y="337.40" width="5.70" height="38.60" fill="#d9789c" stroke="#7a2e4f" stroke-width="0.9"/><path d="M463.13 351.00H468.83" stroke="#7a2e4f" stroke-width="0.9"/><path d="M477.85 382.00V395.40" stroke="#000" stroke-width="1" stroke-dasharray="2.4 2.1" fill="none"/><path d="M477.85 421.60V406.40" stroke="#000" stroke-width="1" stroke-dasharray="2.4 2.1" fill="none"/><path d="M476.45 382.00H479.25M476.45 421.60H479.25" stroke="#000" stroke-width="0.9" fill="none"/><rect x="475.00" y="395.40" width="5.70" height="11.00" fill="#d6f0d0" stroke="#587a56" stroke-width="0.9"/><path d="M475.00 401.00H480.70" stroke="#587a56" stroke-width="0.9"/><circle cx="477.85" cy="371.60" r="1.65" fill="none" stroke="#111" stroke-width="0.85"/><circle cx="477.85" cy="377.60" r="1.65" fill="none" stroke="#111" stroke-width="0.85"/><path d="M489.73 357.50V391.40" stroke="#000" stroke-width="1" stroke-dasharray="2.4 2.1" fill="none"/><path d="M489.73 425.00V413.40" stroke="#000" stroke-width="1" stroke-dasharray="2.4 2.1" fill="none"/><path d="M488.33 357.50H491.12M488.33 425.00H491.12" stroke="#000" stroke-width="0.9" fill="none"/><rect x="486.88" y="391.40" width="5.70" height="22.00" fill="#a5c4a3" stroke="#3f5a3f" stroke-width="0.9"/><path d="M486.88 407.00H492.57" stroke="#3f5a3f" stroke-width="0.9"/><circle cx="489.73" cy="336.40" r="1.65" fill="none" stroke="#111" stroke-width="0.85"/><circle cx="489.73" cy="347.00" r="1.65" fill="none" stroke="#111" stroke-width="0.85"/><circle cx="489.73" cy="349.20" r="1.65" fill="none" stroke="#111" stroke-width="0.85"/><circle cx="489.73" cy="351.60" r="1.65" fill="none" stroke="#111" stroke-width="0.85"/><path d="M501.60 357.60V376.00" stroke="#000" stroke-width="1" stroke-dasharray="2.4 2.1" fill="none"/><path d="M501.60 400.00V392.40" stroke="#000" stroke-width="1" stroke-dasharray="2.4 2.1" fill="none"/><path d="M500.20 357.60H503.00M500.20 400.00H503.00" stroke="#000" stroke-width="0.9" fill="none"/><rect x="498.75" y="376.00" width="5.70" height="16.40" fill="#f9c6b9" stroke="#a8695e" stroke-width="0.9"/><path d="M498.75 384.00H504.45" stroke="#a8695e" stroke-width="0.9"/><path d="M513.47 330.40V361.40" stroke="#000" stroke-width="1" stroke-dasharray="2.4 2.1" fill="none"/><path d="M513.47 412.40V393.00" stroke="#000" stroke-width="1" stroke-dasharray="2.4 2.1" fill="none"/><path d="M512.07 330.40H514.87M512.07 412.40H514.87" stroke="#000" stroke-width="0.9" fill="none"/><rect x="510.62" y="361.40" width="5.70" height="31.60" fill="#f7da86" stroke="#7a6030" stroke-width="0.9"/><path d="M510.62 371.00H516.32" stroke="#7a6030" stroke-width="0.9"/><path d="M525.34 350.00V363.60" stroke="#000" stroke-width="1" stroke-dasharray="2.4 2.1" fill="none"/><path d="M525.34 400.40V379.00" stroke="#000" stroke-width="1" stroke-dasharray="2.4 2.1" fill="none"/><path d="M523.94 350.00H526.74M523.94 400.40H526.74" stroke="#000" stroke-width="0.9" fill="none"/><rect x="522.49" y="363.60" width="5.70" height="15.40" fill="#e6a0be" stroke="#7a3a5a" stroke-width="0.9"/><path d="M522.49 369.60H528.19" stroke="#7a3a5a" stroke-width="0.9"/><path d="M537.21 373.00V391.00" stroke="#000" stroke-width="1" stroke-dasharray="2.4 2.1" fill="none"/><path d="M537.21 427.00V412.40" stroke="#000" stroke-width="1" stroke-dasharray="2.4 2.1" fill="none"/><path d="M535.81 373.00H538.61M535.81 427.00H538.61" stroke="#000" stroke-width="0.9" fill="none"/><rect x="534.36" y="391.00" width="5.70" height="21.40" fill="#f2eb88" stroke="#7a7630" stroke-width="0.9"/><path d="M534.36 405.00H540.06" stroke="#7a7630" stroke-width="0.9"/><rect x="436.3" y="318.0" width="106.84999999999997" height="117.3" fill="none" stroke="#a8a8a8" stroke-width="0.9"/><path d="M436.3 430.50h1.2M543.15 430.50h-1.2M436.3 413.40h1.2M543.15 413.40h-1.2M436.3 396.30h1.2M543.15 396.30h-1.2M436.3 379.20h1.2M543.15 379.20h-1.2M436.3 362.10h1.2M543.15 362.10h-1.2M436.3 345.00h1.2M543.15 345.00h-1.2M436.3 327.90h1.2M543.15 327.90h-1.2M442.24 435.3v-1.2M442.24 318.0v1.2M454.11 435.3v-1.2M454.11 318.0v1.2M465.98 435.3v-1.2M465.98 318.0v1.2M477.85 435.3v-1.2M477.85 318.0v1.2M489.73 435.3v-1.2M489.73 318.0v1.2M501.60 435.3v-1.2M501.60 318.0v1.2M513.47 435.3v-1.2M513.47 318.0v1.2M525.34 435.3v-1.2M525.34 318.0v1.2M537.21 435.3v-1.2M537.21 318.0v1.2" stroke="#b0b0b0" stroke-width="0.6" fill="none"/><text x="434.10" y="433.00" font-size="6.15" text-anchor="end" fill="#262626" color="#262626">820</text><text x="434.10" y="415.90" font-size="6.15" text-anchor="end" fill="#262626" color="#262626">840</text><text x="434.10" y="398.80" font-size="6.15" text-anchor="end" fill="#262626" color="#262626">860</text><text x="434.10" y="381.70" font-size="6.15" text-anchor="end" fill="#262626" color="#262626">880</text><text x="434.10" y="364.60" font-size="6.15" text-anchor="end" fill="#262626" color="#262626">900</text><text x="434.10" y="347.50" font-size="6.15" text-anchor="end" fill="#262626" color="#262626">920</text><text x="434.10" y="330.40" font-size="6.15" text-anchor="end" fill="#262626" color="#262626">940</text><text transform="translate(444.79,437.50) rotate(-90)" font-size="6.2" text-anchor="end" fill="#262626" color="#262626">IMCOA</text><text transform="translate(456.66,437.50) rotate(-90)" font-size="6.2" text-anchor="end" fill="#262626" color="#262626">COA</text><text transform="translate(468.53,437.50) rotate(-90)" font-size="6.2" text-anchor="end" fill="#262626" color="#262626">DBO</text><text transform="translate(480.40,437.50) rotate(-90)" font-size="6.2" text-anchor="end" fill="#262626" color="#262626">TSO</text><text transform="translate(492.28,437.50) rotate(-90)" font-size="6.2" text-anchor="end" fill="#262626" color="#262626">GWO</text><text transform="translate(504.15,437.50) rotate(-90)" font-size="6.2" text-anchor="end" fill="#262626" color="#262626">AO</text><text transform="translate(516.02,437.50) rotate(-90)" font-size="6.2" text-anchor="end" fill="#262626" color="#262626">SSA</text><text transform="translate(527.89,437.50) rotate(-90)" font-size="6.2" text-anchor="end" fill="#262626" color="#262626">HHO</text><text transform="translate(539.76,437.50) rotate(-90)" font-size="6.2" text-anchor="end" fill="#262626" color="#262626">RIME</text><text x="489.73" y="316.20" font-size="6.9" text-anchor="middle" fill="#1a1a1a" color="#1a1a1a" class="t">CEC2022 F4 Dim=20</text></g>
<g><path d="M27.74 470.1V587.4M39.61 470.1V587.4M51.48 470.1V587.4M63.35 470.1V587.4M75.23 470.1V587.4M87.10 470.1V587.4M98.97 470.1V587.4M110.84 470.1V587.4M122.71 470.1V587.4M21.8 578.00H128.65M21.8 560.12H128.65M21.8 542.23H128.65M21.8 524.35H128.65M21.8 506.47H128.65M21.8 488.58H128.65M21.8 470.70H128.65" stroke="#f0f0f0" stroke-width="0.8" fill="none"/><path d="M27.74 568.60V575.00" stroke="#000" stroke-width="1" stroke-dasharray="2.4 2.1" fill="none"/><path d="M26.34 568.60H29.14" stroke="#000" stroke-width="0.9" fill="none"/><rect x="24.89" y="575.00" width="5.70" height="6.40" fill="#b9b3f5" stroke="#4b4a9a" stroke-width="0.9"/><path d="M24.89 580.60H30.59" stroke="#4b4a9a" stroke-width="0.9"/><circle cx="27.74" cy="557.40" r="1.65" fill="none" stroke="#111" stroke-width="0.85"/><path d="M39.61 487.00V508.00" stroke="#000" stroke-width="1" stroke-dasharray="2.4 2.1" fill="none"/><path d="M39.61 564.00V536.40" stroke="#000" stroke-width="1" stroke-dasharray="2.4 2.1" fill="none"/><path d="M38.21 487.00H41.01M38.21 564.00H41.01" stroke="#000" stroke-width="0.9" fill="none"/><rect x="36.76" y="508.00" width="5.70" height="28.40" fill="#d6c6b9" stroke="#6e5e52" stroke-width="0.9"/><path d="M36.76 522.00H42.46" stroke="#6e5e52" stroke-width="0.9"/><path d="M51.48 475.00V525.40" stroke="#000" stroke-width="1" stroke-dasharray="2.4 2.1" fill="none"/><path d="M51.48 579.00V563.40" stroke="#000" stroke-width="1" stroke-dasharray="2.4 2.1" fill="none"/><path d="M50.08 475.00H52.88M50.08 579.00H52.88" stroke="#000" stroke-width="0.9" fill="none"/><rect x="48.63" y="525.40" width="5.70" height="38.00" fill="#d9789c" stroke="#7a2e4f" stroke-width="0.9"/><path d="M48.63 544.40H54.33" stroke="#7a2e4f" stroke-width="0.9"/><path d="M63.35 537.40V547.00" stroke="#000" stroke-width="1" stroke-dasharray="2.4 2.1" fill="none"/><path d="M63.35 574.40V561.00" stroke="#000" stroke-width="1" stroke-dasharray="2.4 2.1" fill="none"/><path d="M61.95 537.40H64.75M61.95 574.40H64.75" stroke="#000" stroke-width="0.9" fill="none"/><rect x="60.50" y="547.00" width="5.70" height="14.00" fill="#d6f0d0" stroke="#587a56" stroke-width="0.9"/><path d="M60.50 553.40H66.20" stroke="#587a56" stroke-width="0.9"/><circle cx="63.35" cy="517.60" r="1.65" fill="none" stroke="#111" stroke-width="0.85"/><circle cx="63.35" cy="519.00" r="1.65" fill="none" stroke="#111" stroke-width="0.85"/><path d="M75.23 562.40V571.00" stroke="#000" stroke-width="1" stroke-dasharray="2.4 2.1" fill="none"/><path d="M75.23 581.00V577.60" stroke="#000" stroke-width="1" stroke-dasharray="2.4 2.1" fill="none"/><path d="M73.83 562.40H76.63M73.83 581.00H76.63" stroke="#000" stroke-width="0.9" fill="none"/><rect x="72.38" y="571.00" width="5.70" height="6.60" fill="#a5c4a3" stroke="#3f5a3f" stroke-width="0.9"/><path d="M72.38 575.00H78.07" stroke="#3f5a3f" stroke-width="0.9"/><path d="M87.10 502.40V524.60" stroke="#000" stroke-width="1" stroke-dasharray="2.4 2.1" fill="none"/><path d="M87.10 559.60V547.00" stroke="#000" stroke-width="1" stroke-dasharray="2.4 2.1" fill="none"/><path d="M85.70 502.40H88.50M85.70 559.60H88.50" stroke="#000" stroke-width="0.9" fill="none"/><rect x="84.25" y="524.60" width="5.70" height="22.40" fill="#f9c6b9" stroke="#a8695e" stroke-width="0.9"/><path d="M84.25 538.60H89.95" stroke="#a8695e" stroke-width="0.9"/><path d="M98.97 504.00V524.00" stroke="#000" stroke-width="1" stroke-dasharray="2.4 2.1" fill="none"/><path d="M98.97 578.40V569.60" stroke="#000" stroke-width="1" stroke-dasharray="2.4 2.1" fill="none"/><path d="M97.57 504.00H100.37M97.57 578.40H100.37" stroke="#000" stroke-width="0.9" fill="none"/><rect x="96.12" y="524.00" width="5.70" height="45.60" fill="#f7da86" stroke="#7a6030" stroke-width="0.9"/><path d="M96.12 547.00H101.82" stroke="#7a6030" stroke-width="0.9"/><path d="M110.84 485.00V505.00" stroke="#000" stroke-width="1" stroke-dasharray="2.4 2.1" fill="none"/><path d="M110.84 538.40V519.40" stroke="#000" stroke-width="1" stroke-dasharray="2.4 2.1" fill="none"/><path d="M109.44 485.00H112.24M109.44 538.40H112.24" stroke="#000" stroke-width="0.9" fill="none"/><rect x="107.99" y="505.00" width="5.70" height="14.40" fill="#e6a0be" stroke="#7a3a5a" stroke-width="0.9"/><path d="M107.99 510.40H113.69" stroke="#7a3a5a" stroke-width="0.9"/><path d="M122.71 570.00V576.00" stroke="#000" stroke-width="1" stroke-dasharray="2.4 2.1" fill="none"/><path d="M121.31 570.00H124.11" stroke="#000" stroke-width="0.9" fill="none"/><rect x="119.86" y="576.00" width="5.70" height="5.00" fill="#f2eb88" stroke="#7a7630" stroke-width="0.9"/><path d="M119.86 580.40H125.56" stroke="#7a7630" stroke-width="0.9"/><circle cx="122.71" cy="551.00" r="1.65" fill="none" stroke="#111" stroke-width="0.85"/><circle cx="122.71" cy="558.00" r="1.65" fill="none" stroke="#111" stroke-width="0.85"/><circle cx="122.71" cy="565.40" r="1.65" fill="none" stroke="#111" stroke-width="0.85"/><rect x="21.8" y="470.1" width="106.85000000000001" height="117.3" fill="none" stroke="#a8a8a8" stroke-width="0.9"/><path d="M21.8 578.00h1.2M128.65 578.00h-1.2M21.8 560.12h1.2M128.65 560.12h-1.2M21.8 542.23h1.2M128.65 542.23h-1.2M21.8 524.35h1.2M128.65 524.35h-1.2M21.8 506.47h1.2M128.65 506.47h-1.2M21.8 488.58h1.2M128.65 488.58h-1.2M21.8 470.70h1.2M128.65 470.70h-1.2M27.74 587.4v-1.2M27.74 470.1v1.2M39.61 587.4v-1.2M39.61 470.1v1.2M51.48 587.4v-1.2M51.48 470.1v1.2M63.35 587.4v-1.2M63.35 470.1v1.2M75.23 587.4v-1.2M75.23 470.1v1.2M87.10 587.4v-1.2M87.10 470.1v1.2M98.97 587.4v-1.2M98.97 470.1v1.2M110.84 587.4v-1.2M110.84 470.1v1.2M122.71 587.4v-1.2M122.71 470.1v1.2" stroke="#b0b0b0" stroke-width="0.6" fill="none"/><text x="19.60" y="580.50" font-size="6.15" text-anchor="end" fill="#262626" color="#262626">1000</text><text x="19.60" y="562.62" font-size="6.15" text-anchor="end" fill="#262626" color="#262626">1500</text><text x="19.60" y="544.73" font-size="6.15" text-anchor="end" fill="#262626" color="#262626">2000</text><text x="19.60" y="526.85" font-size="6.15" text-anchor="end" fill="#262626" color="#262626">2500</text><text x="19.60" y="508.97" font-size="6.15" text-anchor="end" fill="#262626" color="#262626">3000</text><text x="19.60" y="491.08" font-size="6.15" text-anchor="end" fill="#262626" color="#262626">3500</text><text x="19.60" y="473.20" font-size="6.15" text-anchor="end" fill="#262626" color="#262626">4000</text><text transform="translate(30.29,589.60) rotate(-90)" font-size="6.2" text-anchor="end" fill="#262626" color="#262626">IMCOA</text><text transform="translate(42.16,589.60) rotate(-90)" font-size="6.2" text-anchor="end" fill="#262626" color="#262626">COA</text><text transform="translate(54.03,589.60) rotate(-90)" font-size="6.2" text-anchor="end" fill="#262626" color="#262626">DBO</text><text transform="translate(65.90,589.60) rotate(-90)" font-size="6.2" text-anchor="end" fill="#262626" color="#262626">TSO</text><text transform="translate(77.78,589.60) rotate(-90)" font-size="6.2" text-anchor="end" fill="#262626" color="#262626">GWO</text><text transform="translate(89.65,589.60) rotate(-90)" font-size="6.2" text-anchor="end" fill="#262626" color="#262626">AO</text><text transform="translate(101.52,589.60) rotate(-90)" font-size="6.2" text-anchor="end" fill="#262626" color="#262626">SSA</text><text transform="translate(113.39,589.60) rotate(-90)" font-size="6.2" text-anchor="end" fill="#262626" color="#262626">HHO</text><text transform="translate(125.26,589.60) rotate(-90)" font-size="6.2" text-anchor="end" fill="#262626" color="#262626">RIME</text><text x="75.23" y="468.30" font-size="6.9" text-anchor="middle" fill="#1a1a1a" color="#1a1a1a" class="t">CEC2022 F5 Dim=20</text></g>
<g><path d="M165.68 470.1V587.4M177.55 470.1V587.4M189.42 470.1V587.4M201.28 470.1V587.4M213.15 470.1V587.4M225.02 470.1V587.4M236.88 470.1V587.4M248.75 470.1V587.4M260.62 470.1V587.4M159.75 580.40H266.55M159.75 566.64H266.55M159.75 552.88H266.55M159.75 539.11H266.55M159.75 525.35H266.55M159.75 511.59H266.55M159.75 497.82H266.55M159.75 484.06H266.55M159.75 470.30H266.55" stroke="#f0f0f0" stroke-width="0.8" fill="none"/><path d="M162.84 580.40H168.53" stroke="#292854" stroke-width="1.2"/><path d="M162.78 580.40L165.68 578.60L168.58 580.40L165.68 582.20Z" fill="#555" stroke="#2a2a2a" stroke-width="0.8"/><circle cx="165.68" cy="580.40" r="0.6" fill="#999"/><path d="M174.70 580.40H180.40" stroke="#3c332d" stroke-width="1.2"/><path d="M174.65 580.40L177.55 578.60L180.45 580.40L177.55 582.20Z" fill="#555" stroke="#2a2a2a" stroke-width="0.8"/><circle cx="177.55" cy="580.40" r="0.6" fill="#999"/><path d="M189.42 569.60V575.60" stroke="#000" stroke-width="1" stroke-dasharray="2.4 2.1" fill="none"/><path d="M188.02 569.60H190.82" stroke="#000" stroke-width="0.9" fill="none"/><rect x="186.57" y="575.60" width="5.70" height="4.80" fill="#d9789c" stroke="#7a2e4f" stroke-width="0.9"/><path d="M198.44 580.40H204.13" stroke="#30432f" stroke-width="1.2"/><path d="M198.38 580.40L201.28 578.60L204.18 580.40L201.28 582.20Z" fill="#555" stroke="#2a2a2a" stroke-width="0.8"/><circle cx="201.28" cy="580.40" r="0.6" fill="#999"/><rect x="210.30" y="577.00" width="5.70" height="3.40" fill="#a5c4a3" stroke="#3f5a3f" stroke-width="0.9"/><circle cx="213.15" cy="475.00" r="1.65" fill="none" stroke="#111" stroke-width="0.85"/><circle cx="213.15" cy="554.60" r="1.65" fill="none" stroke="#111" stroke-width="0.85"/><circle cx="213.15" cy="561.40" r="1.65" fill="none" stroke="#111" stroke-width="0.85"/><circle cx="213.15" cy="569.00" r="1.65" fill="none" stroke="#111" stroke-width="0.85"/><circle cx="213.15" cy="572.00" r="1.65" fill="none" stroke="#111" stroke-width="0.85"/><circle cx="213.15" cy="574.00" r="1.65" fill="none" stroke="#111" stroke-width="0.85"/><path d="M225.02 576.90V578.00" stroke="#000" stroke-width="1" stroke-dasharray="2.4 2.1" fill="none"/><path d="M225.02 581.50V580.40" stroke="#000" stroke-width="1" stroke-dasharray="2.4 2.1" fill="none"/><path d="M223.62 576.90H226.42M223.62 581.50H226.42" stroke="#000" stroke-width="0.9" fill="none"/><rect x="222.17" y="578.00" width="5.70" height="2.40" fill="#d49c90" stroke="#86544b" stroke-width="0.9"/><path d="M222.17 579.60H227.86" stroke="#a8695e" stroke-width="0.9"/><circle cx="225.02" cy="573.40" r="1.65" fill="none" stroke="#111" stroke-width="0.85"/><path d="M234.04 580.40H239.73" stroke="#43341a" stroke-width="1.2"/><path d="M248.75 577.50V578.60" stroke="#000" stroke-width="1" stroke-dasharray="2.4 2.1" fill="none"/><path d="M248.75 580.90V579.80" stroke="#000" stroke-width="1" stroke-dasharray="2.4 2.1" fill="none"/><path d="M247.35 577.50H250.15M247.35 580.90H250.15" stroke="#000" stroke-width="0.9" fill="none"/><rect x="245.90" y="578.60" width="5.70" height="1.20" fill="#b57291" stroke="#612e48" stroke-width="0.9"/><path d="M245.90 579.20H251.60" stroke="#7a3a5a" stroke-width="0.9"/><path d="M257.77 580.40H263.46" stroke="#43401a" stroke-width="1.2"/><rect x="159.75" y="470.1" width="106.80000000000001" height="117.3" fill="none" stroke="#a8a8a8" stroke-width="0.9"/><path d="M159.75 580.40h1.2M266.55 580.40h-1.2M159.75 566.64h1.2M266.55 566.64h-1.2M159.75 552.88h1.2M266.55 552.88h-1.2M159.75 539.11h1.2M266.55 539.11h-1.2M159.75 525.35h1.2M266.55 525.35h-1.2M159.75 511.59h1.2M266.55 511.59h-1.2M159.75 497.82h1.2M266.55 497.82h-1.2M159.75 484.06h1.2M266.55 484.06h-1.2M159.75 470.30h1.2M266.55 470.30h-1.2M165.68 587.4v-1.2M165.68 470.1v1.2M177.55 587.4v-1.2M177.55 470.1v1.2M189.42 587.4v-1.2M189.42 470.1v1.2M201.28 587.4v-1.2M201.28 470.1v1.2M213.15 587.4v-1.2M213.15 470.1v1.2M225.02 587.4v-1.2M225.02 470.1v1.2M236.88 587.4v-1.2M236.88 470.1v1.2M248.75 587.4v-1.2M248.75 470.1v1.2M260.62 587.4v-1.2M260.62 470.1v1.2" stroke="#b0b0b0" stroke-width="0.6" fill="none"/><text x="157.55" y="582.90" font-size="6.15" text-anchor="end" fill="#262626" color="#262626">0</text><text x="157.55" y="569.14" font-size="6.15" text-anchor="end" fill="#262626" color="#262626">2</text><text x="157.55" y="555.38" font-size="6.15" text-anchor="end" fill="#262626" color="#262626">4</text><text x="157.55" y="541.61" font-size="6.15" text-anchor="end" fill="#262626" color="#262626">6</text><text x="157.55" y="527.85" font-size="6.15" text-anchor="end" fill="#262626" color="#262626">8</text><text x="157.55" y="514.09" font-size="6.15" text-anchor="end" fill="#262626" color="#262626">10</text><text x="157.55" y="500.32" font-size="6.15" text-anchor="end" fill="#262626" color="#262626">12</text><text x="157.55" y="486.56" font-size="6.15" text-anchor="end" fill="#262626" color="#262626">14</text><text x="157.55" y="472.80" font-size="6.15" text-anchor="end" fill="#262626" color="#262626">16</text><text transform="translate(168.23,589.60) rotate(-90)" font-size="6.2" text-anchor="end" fill="#262626" color="#262626">IMCOA</text><text transform="translate(180.10,589.60) rotate(-90)" font-size="6.2" text-anchor="end" fill="#262626" color="#262626">COA</text><text transform="translate(191.97,589.60) rotate(-90)" font-size="6.2" text-anchor="end" fill="#262626" color="#262626">DBO</text><text transform="translate(203.83,589.60) rotate(-90)" font-size="6.2" text-anchor="end" fill="#262626" color="#262626">TSO</text><text transform="translate(215.70,589.60) rotate(-90)" font-size="6.2" text-anchor="end" fill="#262626" color="#262626">GWO</text><text transform="translate(227.57,589.60) rotate(-90)" font-size="6.2" text-anchor="end" fill="#262626" color="#262626">AO</text><text transform="translate(239.43,589.60) rotate(-90)" font-size="6.2" text-anchor="end" fill="#262626" color="#262626">SSA</text><text transform="translate(251.30,589.60) rotate(-90)" font-size="6.2" text-anchor="end" fill="#262626" color="#262626">HHO</text><text transform="translate(263.17,589.60) rotate(-90)" font-size="6.2" text-anchor="end" fill="#262626" color="#262626">RIME</text><text x="213.15" y="468.30" font-size="6.9" text-anchor="middle" fill="#1a1a1a" color="#1a1a1a" class="t">CEC2022 F6 Dim=20</text><text x="160.65" y="467.90" font-size="5.6" fill="#555" style="stroke:none">×</text><text x="164.65" y="468.70" font-size="6.6" fill="#262626" color="#262626">10</text><text x="172.75" y="465.30" font-size="4.4" fill="#262626">8</text></g>
<g><path d="M304.03 470.1V587.4M315.88 470.1V587.4M327.74 470.1V587.4M339.59 470.1V587.4M351.45 470.1V587.4M363.31 470.1V587.4M375.16 470.1V587.4M387.02 470.1V587.4M398.87 470.1V587.4M298.1 573.40H404.8M298.1 558.00H404.8M298.1 542.60H404.8M298.1 527.20H404.8M298.1 511.80H404.8M298.1 496.40H404.8M298.1 481.00H404.8" stroke="#f0f0f0" stroke-width="0.8" fill="none"/><path d="M304.03 559.40V570.00" stroke="#000" stroke-width="1" stroke-dasharray="2.4 2.1" fill="none"/><path d="M304.03 581.40V578.00" stroke="#000" stroke-width="1" stroke-dasharray="2.4 2.1" fill="none"/><path d="M302.63 559.40H305.43M302.63 581.40H305.43" stroke="#000" stroke-width="0.9" fill="none"/><rect x="301.18" y="570.00" width="5.69" height="8.00" fill="#b9b3f5" stroke="#4b4a9a" stroke-width="0.9"/><path d="M301.18 574.00H306.87" stroke="#4b4a9a" stroke-width="0.9"/><path d="M315.88 544.00V555.40" stroke="#000" stroke-width="1" stroke-dasharray="2.4 2.1" fill="none"/><path d="M315.88 578.60V568.40" stroke="#000" stroke-width="1" stroke-dasharray="2.4 2.1" fill="none"/><path d="M314.48 544.00H317.28M314.48 578.60H317.28" stroke="#000" stroke-width="0.9" fill="none"/><rect x="313.04" y="555.40" width="5.69" height="13.00" fill="#d6c6b9" stroke="#6e5e52" stroke-width="0.9"/><path d="M313.04 561.40H318.73" stroke="#6e5e52" stroke-width="0.9"/><circle cx="315.88" cy="492.40" r="1.65" fill="none" stroke="#111" stroke-width="0.85"/><circle cx="315.88" cy="528.60" r="1.65" fill="none" stroke="#111" stroke-width="0.85"/><path d="M327.74 505.60V538.40" stroke="#000" stroke-width="1" stroke-dasharray="2.4 2.1" fill="none"/><path d="M327.74 574.60V564.00" stroke="#000" stroke-width="1" stroke-dasharray="2.4 2.1" fill="none"/><path d="M326.34 505.60H329.14M326.34 574.60H329.14" stroke="#000" stroke-width="0.9" fill="none"/><rect x="324.89" y="538.40" width="5.69" height="25.60" fill="#d9789c" stroke="#7a2e4f" stroke-width="0.9"/><path d="M324.89 551.40H330.58" stroke="#7a2e4f" stroke-width="0.9"/><path d="M339.59 542.40V553.40" stroke="#000" stroke-width="1" stroke-dasharray="2.4 2.1" fill="none"/><path d="M339.59 571.00V564.40" stroke="#000" stroke-width="1" stroke-dasharray="2.4 2.1" fill="none"/><path d="M338.19 542.40H340.99M338.19 571.00H340.99" stroke="#000" stroke-width="0.9" fill="none"/><rect x="336.75" y="553.40" width="5.69" height="11.00" fill="#d6f0d0" stroke="#587a56" stroke-width="0.9"/><path d="M336.75 559.00H342.44" stroke="#587a56" stroke-width="0.9"/><path d="M351.45 526.40V554.40" stroke="#000" stroke-width="1" stroke-dasharray="2.4 2.1" fill="none"/><path d="M351.45 578.00V574.00" stroke="#000" stroke-width="1" stroke-dasharray="2.4 2.1" fill="none"/><path d="M350.05 526.40H352.85M350.05 578.00H352.85" stroke="#000" stroke-width="0.9" fill="none"/><rect x="348.60" y="554.40" width="5.69" height="19.60" fill="#a5c4a3" stroke="#3f5a3f" stroke-width="0.9"/><path d="M348.60 568.60H354.30" stroke="#3f5a3f" stroke-width="0.9"/><path d="M363.31 538.00V548.00" stroke="#000" stroke-width="1" stroke-dasharray="2.4 2.1" fill="none"/><path d="M363.31 564.00V557.60" stroke="#000" stroke-width="1" stroke-dasharray="2.4 2.1" fill="none"/><path d="M361.91 538.00H364.71M361.91 564.00H364.71" stroke="#000" stroke-width="0.9" fill="none"/><rect x="360.46" y="548.00" width="5.69" height="9.60" fill="#f9c6b9" stroke="#a8695e" stroke-width="0.9"/><path d="M360.46 553.00H366.15" stroke="#a8695e" stroke-width="0.9"/><path d="M375.16 525.00V550.40" stroke="#000" stroke-width="1" stroke-dasharray="2.4 2.1" fill="none"/><path d="M375.16 579.40V567.40" stroke="#000" stroke-width="1" stroke-dasharray="2.4 2.1" fill="none"/><path d="M373.76 525.00H376.56M373.76 579.40H376.56" stroke="#000" stroke-width="0.9" fill="none"/><rect x="372.32" y="550.40" width="5.69" height="17.00" fill="#f7da86" stroke="#7a6030" stroke-width="0.9"/><path d="M372.32 562.00H378.01" stroke="#7a6030" stroke-width="0.9"/><circle cx="375.16" cy="518.00" r="1.65" fill="none" stroke="#111" stroke-width="0.85"/><path d="M387.02 475.00V513.60" stroke="#000" stroke-width="1" stroke-dasharray="2.4 2.1" fill="none"/><path d="M387.02 547.40V542.40" stroke="#000" stroke-width="1" stroke-dasharray="2.4 2.1" fill="none"/><path d="M385.62 475.00H388.42M385.62 547.40H388.42" stroke="#000" stroke-width="0.9" fill="none"/><rect x="384.17" y="513.60" width="5.69" height="28.80" fill="#e6a0be" stroke="#7a3a5a" stroke-width="0.9"/><path d="M384.17 533.40H389.86" stroke="#7a3a5a" stroke-width="0.9"/><path d="M398.87 559.40V566.40" stroke="#000" stroke-width="1" stroke-dasharray="2.4 2.1" fill="none"/><path d="M398.87 580.40V576.40" stroke="#000" stroke-width="1" stroke-dasharray="2.4 2.1" fill="none"/><path d="M397.47 559.40H400.27M397.47 580.40H400.27" stroke="#000" stroke-width="0.9" fill="none"/><rect x="396.03" y="566.40" width="5.69" height="10.00" fill="#f2eb88" stroke="#7a7630" stroke-width="0.9"/><circle cx="398.87" cy="536.60" r="1.65" fill="none" stroke="#111" stroke-width="0.85"/><circle cx="398.87" cy="545.60" r="1.65" fill="none" stroke="#111" stroke-width="0.85"/><rect x="298.1" y="470.1" width="106.69999999999999" height="117.3" fill="none" stroke="#a8a8a8" stroke-width="0.9"/><path d="M298.1 573.40h1.2M404.8 573.40h-1.2M298.1 558.00h1.2M404.8 558.00h-1.2M298.1 542.60h1.2M404.8 542.60h-1.2M298.1 527.20h1.2M404.8 527.20h-1.2M298.1 511.80h1.2M404.8 511.80h-1.2M298.1 496.40h1.2M404.8 496.40h-1.2M298.1 481.00h1.2M404.8 481.00h-1.2M304.03 587.4v-1.2M304.03 470.1v1.2M315.88 587.4v-1.2M315.88 470.1v1.2M327.74 587.4v-1.2M327.74 470.1v1.2M339.59 587.4v-1.2M339.59 470.1v1.2M351.45 587.4v-1.2M351.45 470.1v1.2M363.31 587.4v-1.2M363.31 470.1v1.2M375.16 587.4v-1.2M375.16 470.1v1.2M387.02 587.4v-1.2M387.02 470.1v1.2M398.87 587.4v-1.2M398.87 470.1v1.2" stroke="#b0b0b0" stroke-width="0.6" fill="none"/><text x="295.90" y="575.90" font-size="6.15" text-anchor="end" fill="#262626" color="#262626">2050</text><text x="295.90" y="560.50" font-size="6.15" text-anchor="end" fill="#262626" color="#262626">2100</text><text x="295.90" y="545.10" font-size="6.15" text-anchor="end" fill="#262626" color="#262626">2150</text><text x="295.90" y="529.70" font-size="6.15" text-anchor="end" fill="#262626" color="#262626">2200</text><text x="295.90" y="514.30" font-size="6.15" text-anchor="end" fill="#262626" color="#262626">2250</text><text x="295.90" y="498.90" font-size="6.15" text-anchor="end" fill="#262626" color="#262626">2300</text><text x="295.90" y="483.50" font-size="6.15" text-anchor="end" fill="#262626" color="#262626">2350</text><text transform="translate(306.58,589.60) rotate(-90)" font-size="6.2" text-anchor="end" fill="#262626" color="#262626">IMCOA</text><text transform="translate(318.43,589.60) rotate(-90)" font-size="6.2" text-anchor="end" fill="#262626" color="#262626">COA</text><text transform="translate(330.29,589.60) rotate(-90)" font-size="6.2" text-anchor="end" fill="#262626" color="#262626">DBO</text><text transform="translate(342.14,589.60) rotate(-90)" font-size="6.2" text-anchor="end" fill="#262626" color="#262626">TSO</text><text transform="translate(354.00,589.60) rotate(-90)" font-size="6.2" text-anchor="end" fill="#262626" color="#262626">GWO</text><text transform="translate(365.86,589.60) rotate(-90)" font-size="6.2" text-anchor="end" fill="#262626" color="#262626">AO</text><text transform="translate(377.71,589.60) rotate(-90)" font-size="6.2" text-anchor="end" fill="#262626" color="#262626">SSA</text><text transform="translate(389.57,589.60) rotate(-90)" font-size="6.2" text-anchor="end" fill="#262626" color="#262626">HHO</text><text transform="translate(401.42,589.60) rotate(-90)" font-size="6.2" text-anchor="end" fill="#262626" color="#262626">RIME</text><text x="351.45" y="468.30" font-size="6.9" text-anchor="middle" fill="#1a1a1a" color="#1a1a1a" class="t">CEC2022 F7 Dim=20</text></g>
<g><path d="M442.24 470.1V587.4M454.11 470.1V587.4M465.98 470.1V587.4M477.85 470.1V587.4M489.73 470.1V587.4M501.60 470.1V587.4M513.47 470.1V587.4M525.34 470.1V587.4M537.21 470.1V587.4M436.3 582.60H543.15M436.3 568.37H543.15M436.3 554.14H543.15M436.3 539.91H543.15M436.3 525.69H543.15M436.3 511.46H543.15M436.3 497.23H543.15M436.3 483.00H543.15" stroke="#f0f0f0" stroke-width="0.8" fill="none"/><rect x="439.39" y="571.60" width="5.70" height="4.40" fill="#b9b3f5" stroke="#4b4a9a" stroke-width="0.9"/><circle cx="442.24" cy="535.60" r="1.65" fill="none" stroke="#111" stroke-width="0.85"/><circle cx="442.24" cy="541.60" r="1.65" fill="none" stroke="#111" stroke-width="0.85"/><path d="M454.11 535.00V556.60" stroke="#000" stroke-width="1" stroke-dasharray="2.4 2.1" fill="none"/><path d="M454.11 574.60V572.60" stroke="#000" stroke-width="1" stroke-dasharray="2.4 2.1" fill="none"/><path d="M452.71 535.00H455.51M452.71 574.60H455.51" stroke="#000" stroke-width="0.9" fill="none"/><rect x="451.26" y="556.60" width="5.70" height="16.00" fill="#d6c6b9" stroke="#6e5e52" stroke-width="0.9"/><path d="M451.26 570.00H456.96" stroke="#6e5e52" stroke-width="0.9"/><circle cx="454.11" cy="497.60" r="1.65" fill="none" stroke="#111" stroke-width="0.85"/><circle cx="454.11" cy="510.00" r="1.65" fill="none" stroke="#111" stroke-width="0.85"/><circle cx="454.11" cy="531.20" r="1.65" fill="none" stroke="#111" stroke-width="0.85"/><path d="M465.98 508.40V539.40" stroke="#000" stroke-width="1" stroke-dasharray="2.4 2.1" fill="none"/><path d="M465.98 574.00V570.40" stroke="#000" stroke-width="1" stroke-dasharray="2.4 2.1" fill="none"/><path d="M464.58 508.40H467.38M464.58 574.00H467.38" stroke="#000" stroke-width="0.9" fill="none"/><rect x="463.13" y="539.40" width="5.70" height="31.00" fill="#d9789c" stroke="#7a2e4f" stroke-width="0.9"/><path d="M463.13 567.60H468.83" stroke="#7a2e4f" stroke-width="0.9"/><path d="M477.85 571.90V573.00" stroke="#000" stroke-width="1" stroke-dasharray="2.4 2.1" fill="none"/><path d="M477.85 576.70V575.60" stroke="#000" stroke-width="1" stroke-dasharray="2.4 2.1" fill="none"/><path d="M476.45 571.90H479.25M476.45 576.70H479.25" stroke="#000" stroke-width="0.9" fill="none"/><rect x="475.00" y="573.00" width="5.70" height="2.60" fill="#9dba99" stroke="#466144" stroke-width="0.9"/><path d="M475.00 574.60H480.70" stroke="#587a56" stroke-width="0.9"/><circle cx="477.85" cy="564.40" r="1.65" fill="none" stroke="#111" stroke-width="0.85"/><circle cx="477.85" cy="566.40" r="1.65" fill="none" stroke="#111" stroke-width="0.85"/><circle cx="477.85" cy="568.40" r="1.65" fill="none" stroke="#111" stroke-width="0.85"/><circle cx="477.85" cy="570.40" r="1.65" fill="none" stroke="#111" stroke-width="0.85"/><path d="M489.73 536.40V541.40" stroke="#000" stroke-width="1" stroke-dasharray="2.4 2.1" fill="none"/><path d="M488.33 536.40H491.12" stroke="#000" stroke-width="0.9" fill="none"/><rect x="486.88" y="541.40" width="5.70" height="33.20" fill="#a5c4a3" stroke="#3f5a3f" stroke-width="0.9"/><path d="M486.88 573.00H492.57" stroke="#3f5a3f" stroke-width="0.9"/><path d="M501.60 563.00V567.60" stroke="#000" stroke-width="1" stroke-dasharray="2.4 2.1" fill="none"/><path d="M500.20 563.00H503.00" stroke="#000" stroke-width="0.9" fill="none"/><rect x="498.75" y="567.60" width="5.70" height="5.40" fill="#f9c6b9" stroke="#a8695e" stroke-width="0.9"/><path d="M498.75 570.60H504.45" stroke="#a8695e" stroke-width="0.9"/><circle cx="501.60" cy="537.00" r="1.65" fill="none" stroke="#111" stroke-width="0.85"/><circle cx="501.60" cy="538.00" r="1.65" fill="none" stroke="#111" stroke-width="0.85"/><path d="M513.47 505.60V539.40" stroke="#000" stroke-width="1" stroke-dasharray="2.4 2.1" fill="none"/><path d="M513.47 575.60V573.40" stroke="#000" stroke-width="1" stroke-dasharray="2.4 2.1" fill="none"/><path d="M512.07 505.60H514.87M512.07 575.60H514.87" stroke="#000" stroke-width="0.9" fill="none"/><rect x="510.62" y="539.40" width="5.70" height="34.00" fill="#f7da86" stroke="#7a6030" stroke-width="0.9"/><path d="M510.62 568.40H516.32" stroke="#7a6030" stroke-width="0.9"/><path d="M525.34 537.00V556.40" stroke="#000" stroke-width="1" stroke-dasharray="2.4 2.1" fill="none"/><path d="M523.94 537.00H526.74" stroke="#000" stroke-width="0.9" fill="none"/><rect x="522.49" y="556.40" width="5.70" height="15.60" fill="#e6a0be" stroke="#7a3a5a" stroke-width="0.9"/><path d="M522.49 570.00H528.19" stroke="#7a3a5a" stroke-width="0.9"/><circle cx="525.34" cy="475.00" r="1.65" fill="none" stroke="#111" stroke-width="0.85"/><circle cx="525.34" cy="508.40" r="1.65" fill="none" stroke="#111" stroke-width="0.85"/><circle cx="525.34" cy="510.00" r="1.65" fill="none" stroke="#111" stroke-width="0.85"/><path d="M537.21 565.40V570.40" stroke="#000" stroke-width="1" stroke-dasharray="2.4 2.1" fill="none"/><path d="M535.81 565.40H538.61" stroke="#000" stroke-width="0.9" fill="none"/><rect x="534.36" y="570.40" width="5.70" height="5.00" fill="#f2eb88" stroke="#7a7630" stroke-width="0.9"/><circle cx="537.21" cy="533.40" r="1.65" fill="none" stroke="#111" stroke-width="0.85"/><circle cx="537.21" cy="538.40" r="1.65" fill="none" stroke="#111" stroke-width="0.85"/><circle cx="537.21" cy="542.00" r="1.65" fill="none" stroke="#111" stroke-width="0.85"/><rect x="436.3" y="470.1" width="106.84999999999997" height="117.3" fill="none" stroke="#a8a8a8" stroke-width="0.9"/><path d="M436.3 582.60h1.2M543.15 582.60h-1.2M436.3 568.37h1.2M543.15 568.37h-1.2M436.3 554.14h1.2M543.15 554.14h-1.2M436.3 539.91h1.2M543.15 539.91h-1.2M436.3 525.69h1.2M543.15 525.69h-1.2M436.3 511.46h1.2M543.15 511.46h-1.2M436.3 497.23h1.2M543.15 497.23h-1.2M436.3 483.00h1.2M543.15 483.00h-1.2M442.24 587.4v-1.2M442.24 470.1v1.2M454.11 587.4v-1.2M454.11 470.1v1.2M465.98 587.4v-1.2M465.98 470.1v1.2M477.85 587.4v-1.2M477.85 470.1v1.2M489.73 587.4v-1.2M489.73 470.1v1.2M501.60 587.4v-1.2M501.60 470.1v1.2M513.47 587.4v-1.2M513.47 470.1v1.2M525.34 587.4v-1.2M525.34 470.1v1.2M537.21 587.4v-1.2M537.21 470.1v1.2" stroke="#b0b0b0" stroke-width="0.6" fill="none"/><text x="434.10" y="585.10" font-size="6.15" text-anchor="end" fill="#262626" color="#262626">2200</text><text x="434.10" y="570.87" font-size="6.15" text-anchor="end" fill="#262626" color="#262626">2250</text><text x="434.10" y="556.64" font-size="6.15" text-anchor="end" fill="#262626" color="#262626">2300</text><text x="434.10" y="542.41" font-size="6.15" text-anchor="end" fill="#262626" color="#262626">2350</text><text x="434.10" y="528.19" font-size="6.15" text-anchor="end" fill="#262626" color="#262626">2400</text><text x="434.10" y="513.96" font-size="6.15" text-anchor="end" fill="#262626" color="#262626">2450</text><text x="434.10" y="499.73" font-size="6.15" text-anchor="end" fill="#262626" color="#262626">2500</text><text x="434.10" y="485.50" font-size="6.15" text-anchor="end" fill="#262626" color="#262626">2550</text><text transform="translate(444.79,589.60) rotate(-90)" font-size="6.2" text-anchor="end" fill="#262626" color="#262626">IMCOA</text><text transform="translate(456.66,589.60) rotate(-90)" font-size="6.2" text-anchor="end" fill="#262626" color="#262626">COA</text><text transform="translate(468.53,589.60) rotate(-90)" font-size="6.2" text-anchor="end" fill="#262626" color="#262626">DBO</text><text transform="translate(480.40,589.60) rotate(-90)" font-size="6.2" text-anchor="end" fill="#262626" color="#262626">TSO</text><text transform="translate(492.28,589.60) rotate(-90)" font-size="6.2" text-anchor="end" fill="#262626" color="#262626">GWO</text><text transform="translate(504.15,589.60) rotate(-90)" font-size="6.2" text-anchor="end" fill="#262626" color="#262626">AO</text><text transform="translate(516.02,589.60) rotate(-90)" font-size="6.2" text-anchor="end" fill="#262626" color="#262626">SSA</text><text transform="translate(527.89,589.60) rotate(-90)" font-size="6.2" text-anchor="end" fill="#262626" color="#262626">HHO</text><text transform="translate(539.76,589.60) rotate(-90)" font-size="6.2" text-anchor="end" fill="#262626" color="#262626">RIME</text><text x="489.73" y="468.30" font-size="6.9" text-anchor="middle" fill="#1a1a1a" color="#1a1a1a" class="t">CEC2022 F8 Dim=20</text></g>
<g><path d="M27.74 622.1V739.4M39.61 622.1V739.4M51.48 622.1V739.4M63.35 622.1V739.4M75.23 622.1V739.4M87.10 622.1V739.4M98.97 622.1V739.4M110.84 622.1V739.4M122.71 622.1V739.4M21.8 724.30H128.65M21.8 698.70H128.65M21.8 673.10H128.65M21.8 647.50H128.65" stroke="#f0f0f0" stroke-width="0.8" fill="none"/><path d="M24.89 734.00H30.59" stroke="#292854" stroke-width="1.2"/><path d="M24.84 734.00L27.74 732.20L30.64 734.00L27.74 735.80Z" fill="#555" stroke="#2a2a2a" stroke-width="0.8"/><circle cx="27.74" cy="734.00" r="0.6" fill="#999"/><path d="M36.76 733.60H42.46" stroke="#3c332d" stroke-width="1.2"/><path d="M36.71 733.60L39.61 731.80L42.51 733.60L39.61 735.40Z" fill="#555" stroke="#2a2a2a" stroke-width="0.8"/><circle cx="39.61" cy="733.60" r="0.6" fill="#999"/><path d="M51.48 693.00V708.40" stroke="#000" stroke-width="1" stroke-dasharray="2.4 2.1" fill="none"/><path d="M50.08 693.00H52.88" stroke="#000" stroke-width="0.9" fill="none"/><rect x="48.63" y="708.40" width="5.70" height="25.00" fill="#d9789c" stroke="#7a2e4f" stroke-width="0.9"/><path d="M48.63 724.00H54.33" stroke="#7a2e4f" stroke-width="0.9"/><circle cx="51.48" cy="650.00" r="1.65" fill="none" stroke="#111" stroke-width="0.85"/><circle cx="51.48" cy="662.00" r="1.65" fill="none" stroke="#111" stroke-width="0.85"/><path d="M60.50 734.00H66.20" stroke="#30432f" stroke-width="1.2"/><path d="M60.45 734.00L63.35 732.20L66.25 734.00L63.35 735.80Z" fill="#555" stroke="#2a2a2a" stroke-width="0.8"/><circle cx="63.35" cy="734.00" r="0.6" fill="#999"/><path d="M75.23 692.00V711.40" stroke="#000" stroke-width="1" stroke-dasharray="2.4 2.1" fill="none"/><path d="M75.23 733.40V728.40" stroke="#000" stroke-width="1" stroke-dasharray="2.4 2.1" fill="none"/><path d="M73.83 692.00H76.63M73.83 733.40H76.63" stroke="#000" stroke-width="0.9" fill="none"/><rect x="72.38" y="711.40" width="5.70" height="17.00" fill="#a5c4a3" stroke="#3f5a3f" stroke-width="0.9"/><path d="M72.38 719.60H78.07" stroke="#3f5a3f" stroke-width="0.9"/><circle cx="75.23" cy="674.60" r="1.65" fill="none" stroke="#111" stroke-width="0.85"/><path d="M87.10 668.40V675.40" stroke="#000" stroke-width="1" stroke-dasharray="2.4 2.1" fill="none"/><path d="M87.10 715.40V708.00" stroke="#000" stroke-width="1" stroke-dasharray="2.4 2.1" fill="none"/><path d="M85.70 668.40H88.50M85.70 715.40H88.50" stroke="#000" stroke-width="0.9" fill="none"/><rect x="84.25" y="675.40" width="5.70" height="32.60" fill="#f9c6b9" stroke="#a8695e" stroke-width="0.9"/><path d="M84.25 692.40H89.95" stroke="#a8695e" stroke-width="0.9"/><path d="M98.97 694.40V712.00" stroke="#000" stroke-width="1" stroke-dasharray="2.4 2.1" fill="none"/><path d="M98.97 733.40V731.60" stroke="#000" stroke-width="1" stroke-dasharray="2.4 2.1" fill="none"/><path d="M97.57 694.40H100.37M97.57 733.40H100.37" stroke="#000" stroke-width="0.9" fill="none"/><rect x="96.12" y="712.00" width="5.70" height="19.60" fill="#f7da86" stroke="#7a6030" stroke-width="0.9"/><path d="M96.12 728.00H101.82" stroke="#7a6030" stroke-width="0.9"/><circle cx="98.97" cy="627.00" r="1.65" fill="none" stroke="#111" stroke-width="0.85"/><circle cx="98.97" cy="632.60" r="1.65" fill="none" stroke="#111" stroke-width="0.85"/><circle cx="98.97" cy="674.60" r="1.65" fill="none" stroke="#111" stroke-width="0.85"/><path d="M110.84 691.60V708.40" stroke="#000" stroke-width="1" stroke-dasharray="2.4 2.1" fill="none"/><path d="M110.84 729.60V726.00" stroke="#000" stroke-width="1" stroke-dasharray="2.4 2.1" fill="none"/><path d="M109.44 691.60H112.24M109.44 729.60H112.24" stroke="#000" stroke-width="0.9" fill="none"/><rect x="107.99" y="708.40" width="5.70" height="17.60" fill="#e6a0be" stroke="#7a3a5a" stroke-width="0.9"/><path d="M107.99 719.00H113.69" stroke="#7a3a5a" stroke-width="0.9"/><circle cx="110.84" cy="680.00" r="1.65" fill="none" stroke="#111" stroke-width="0.85"/><path d="M119.86 733.40H125.56" stroke="#43401a" stroke-width="1.2"/><path d="M119.81 733.40L122.71 731.60L125.61 733.40L122.71 735.20Z" fill="#555" stroke="#2a2a2a" stroke-width="0.8"/><circle cx="122.71" cy="733.40" r="0.6" fill="#999"/><rect x="21.8" y="622.1" width="106.85000000000001" height="117.3" fill="none" stroke="#a8a8a8" stroke-width="0.9"/><path d="M21.8 724.30h1.2M128.65 724.30h-1.2M21.8 698.70h1.2M128.65 698.70h-1.2M21.8 673.10h1.2M128.65 673.10h-1.2M21.8 647.50h1.2M128.65 647.50h-1.2M27.74 739.4v-1.2M27.74 622.1v1.2M39.61 739.4v-1.2M39.61 622.1v1.2M51.48 739.4v-1.2M51.48 622.1v1.2M63.35 739.4v-1.2M63.35 622.1v1.2M75.23 739.4v-1.2M75.23 622.1v1.2M87.10 739.4v-1.2M87.10 622.1v1.2M98.97 739.4v-1.2M98.97 622.1v1.2M110.84 739.4v-1.2M110.84 622.1v1.2M122.71 739.4v-1.2M122.71 622.1v1.2" stroke="#b0b0b0" stroke-width="0.6" fill="none"/><text x="19.60" y="726.80" font-size="6.15" text-anchor="end" fill="#262626" color="#262626">2500</text><text x="19.60" y="701.20" font-size="6.15" text-anchor="end" fill="#262626" color="#262626">2550</text><text x="19.60" y="675.60" font-size="6.15" text-anchor="end" fill="#262626" color="#262626">2600</text><text x="19.60" y="650.00" font-size="6.15" text-anchor="end" fill="#262626" color="#262626">2650</text><text transform="translate(30.29,741.60) rotate(-90)" font-size="6.2" text-anchor="end" fill="#262626" color="#262626">IMCOA</text><text transform="translate(42.16,741.60) rotate(-90)" font-size="6.2" text-anchor="end" fill="#262626" color="#262626">COA</text><text transform="translate(54.03,741.60) rotate(-90)" font-size="6.2" text-anchor="end" fill="#262626" color="#262626">DBO</text><text transform="translate(65.90,741.60) rotate(-90)" font-size="6.2" text-anchor="end" fill="#262626" color="#262626">TSO</text><text transform="translate(77.78,741.60) rotate(-90)" font-size="6.2" text-anchor="end" fill="#262626" color="#262626">GWO</text><text transform="translate(89.65,741.60) rotate(-90)" font-size="6.2" text-anchor="end" fill="#262626" color="#262626">AO</text><text transform="translate(101.52,741.60) rotate(-90)" font-size="6.2" text-anchor="end" fill="#262626" color="#262626">SSA</text><text transform="translate(113.39,741.60) rotate(-90)" font-size="6.2" text-anchor="end" fill="#262626" color="#262626">HHO</text><text transform="translate(125.26,741.60) rotate(-90)" font-size="6.2" text-anchor="end" fill="#262626" color="#262626">RIME</text><text x="75.23" y="620.30" font-size="6.9" text-anchor="middle" fill="#1a1a1a" color="#1a1a1a" class="t">CEC2022 F9 Dim=20</text></g>
<g><path d="M165.68 622.1V739.4M177.55 622.1V739.4M189.42 622.1V739.4M201.28 622.1V739.4M213.15 622.1V739.4M225.02 622.1V739.4M236.88 622.1V739.4M248.75 622.1V739.4M260.62 622.1V739.4M159.75 732.70H266.55M159.75 720.24H266.55M159.75 707.78H266.55M159.75 695.31H266.55M159.75 682.85H266.55M159.75 670.39H266.55M159.75 657.92H266.55M159.75 645.46H266.55M159.75 633.00H266.55" stroke="#f0f0f0" stroke-width="0.8" fill="none"/><path d="M165.68 698.60V710.40" stroke="#000" stroke-width="1" stroke-dasharray="2.4 2.1" fill="none"/><path d="M164.28 698.60H167.08" stroke="#000" stroke-width="0.9" fill="none"/><rect x="162.84" y="710.40" width="5.70" height="9.60" fill="#b9b3f5" stroke="#4b4a9a" stroke-width="0.9"/><path d="M177.55 627.40V666.40" stroke="#000" stroke-width="1" stroke-dasharray="2.4 2.1" fill="none"/><path d="M176.15 627.40H178.95" stroke="#000" stroke-width="0.9" fill="none"/><rect x="174.70" y="666.40" width="5.70" height="53.60" fill="#d6c6b9" stroke="#6e5e52" stroke-width="0.9"/><path d="M174.70 698.00H180.40" stroke="#6e5e52" stroke-width="0.9"/><rect x="186.57" y="714.40" width="5.70" height="5.60" fill="#d9789c" stroke="#7a2e4f" stroke-width="0.9"/><circle cx="189.42" cy="639.60" r="1.65" fill="none" stroke="#111" stroke-width="0.85"/><circle cx="189.42" cy="651.40" r="1.65" fill="none" stroke="#111" stroke-width="0.85"/><circle cx="189.42" cy="666.00" r="1.65" fill="none" stroke="#111" stroke-width="0.85"/><circle cx="189.42" cy="669.00" r="1.65" fill="none" stroke="#111" stroke-width="0.85"/><circle cx="189.42" cy="675.00" r="1.65" fill="none" stroke="#111" stroke-width="0.85"/><circle cx="189.42" cy="678.00" r="1.65" fill="none" stroke="#111" stroke-width="0.85"/><circle cx="189.42" cy="679.00" r="1.65" fill="none" stroke="#111" stroke-width="0.85"/><path d="M198.44 719.60H204.13" stroke="#30432f" stroke-width="1.2"/><circle cx="201.28" cy="676.00" r="1.65" fill="none" stroke="#111" stroke-width="0.85"/><circle cx="201.28" cy="681.40" r="1.65" fill="none" stroke="#111" stroke-width="0.85"/><circle cx="201.28" cy="697.60" r="1.65" fill="none" stroke="#111" stroke-width="0.85"/><circle cx="201.28" cy="714.60" r="1.65" fill="none" stroke="#111" stroke-width="0.85"/><path d="M213.15 659.60V675.40" stroke="#000" stroke-width="1" stroke-dasharray="2.4 2.1" fill="none"/><path d="M213.15 720.00V699.60" stroke="#000" stroke-width="1" stroke-dasharray="2.4 2.1" fill="none"/><path d="M211.75 659.60H214.55M211.75 720.00H214.55" stroke="#000" stroke-width="0.9" fill="none"/><rect x="210.30" y="675.40" width="5.70" height="24.20" fill="#a5c4a3" stroke="#3f5a3f" stroke-width="0.9"/><path d="M210.30 683.00H216.00" stroke="#3f5a3f" stroke-width="0.9"/><circle cx="213.15" cy="632.60" r="1.65" fill="none" stroke="#111" stroke-width="0.85"/><path d="M225.02 651.60V671.40" stroke="#000" stroke-width="1" stroke-dasharray="2.4 2.1" fill="none"/><path d="M223.62 651.60H226.42" stroke="#000" stroke-width="0.9" fill="none"/><rect x="222.17" y="671.40" width="5.70" height="48.60" fill="#f9c6b9" stroke="#a8695e" stroke-width="0.9"/><path d="M236.88 632.60V663.40" stroke="#000" stroke-width="1" stroke-dasharray="2.4 2.1" fill="none"/><path d="M235.48 632.60H238.28" stroke="#000" stroke-width="0.9" fill="none"/><rect x="234.04" y="663.40" width="5.70" height="56.60" fill="#f7da86" stroke="#7a6030" stroke-width="0.9"/><path d="M234.04 678.40H239.73" stroke="#7a6030" stroke-width="0.9"/><path d="M248.75 641.60V672.00" stroke="#000" stroke-width="1" stroke-dasharray="2.4 2.1" fill="none"/><path d="M248.75 720.00V700.00" stroke="#000" stroke-width="1" stroke-dasharray="2.4 2.1" fill="none"/><path d="M247.35 641.60H250.15M247.35 720.00H250.15" stroke="#000" stroke-width="0.9" fill="none"/><rect x="245.90" y="672.00" width="5.70" height="28.00" fill="#e6a0be" stroke="#7a3a5a" stroke-width="0.9"/><path d="M245.90 685.60H251.60" stroke="#7a3a5a" stroke-width="0.9"/><path d="M260.62 706.60V712.60" stroke="#000" stroke-width="1" stroke-dasharray="2.4 2.1" fill="none"/><path d="M259.22 706.60H262.02" stroke="#000" stroke-width="0.9" fill="none"/><rect x="257.77" y="712.60" width="5.70" height="7.40" fill="#f2eb88" stroke="#7a7630" stroke-width="0.9"/><rect x="159.75" y="622.1" width="106.80000000000001" height="117.3" fill="none" stroke="#a8a8a8" stroke-width="0.9"/><path d="M159.75 732.70h1.2M266.55 732.70h-1.2M159.75 720.24h1.2M266.55 720.24h-1.2M159.75 707.78h1.2M266.55 707.78h-1.2M159.75 695.31h1.2M266.55 695.31h-1.2M159.75 682.85h1.2M266.55 682.85h-1.2M159.75 670.39h1.2M266.55 670.39h-1.2M159.75 657.92h1.2M266.55 657.92h-1.2M159.75 645.46h1.2M266.55 645.46h-1.2M159.75 633.00h1.2M266.55 633.00h-1.2M165.68 739.4v-1.2M165.68 622.1v1.2M177.55 739.4v-1.2M177.55 622.1v1.2M189.42 739.4v-1.2M189.42 622.1v1.2M201.28 739.4v-1.2M201.28 622.1v1.2M213.15 739.4v-1.2M213.15 622.1v1.2M225.02 739.4v-1.2M225.02 622.1v1.2M236.88 739.4v-1.2M236.88 622.1v1.2M248.75 739.4v-1.2M248.75 622.1v1.2M260.62 739.4v-1.2M260.62 622.1v1.2" stroke="#b0b0b0" stroke-width="0.6" fill="none"/><text x="157.55" y="735.20" font-size="6.15" text-anchor="end" fill="#262626" color="#262626">2000</text><text x="157.55" y="722.74" font-size="6.15" text-anchor="end" fill="#262626" color="#262626">2500</text><text x="157.55" y="710.28" font-size="6.15" text-anchor="end" fill="#262626" color="#262626">3000</text><text x="157.55" y="697.81" font-size="6.15" text-anchor="end" fill="#262626" color="#262626">3500</text><text x="157.55" y="685.35" font-size="6.15" text-anchor="end" fill="#262626" color="#262626">4000</text><text x="157.55" y="672.89" font-size="6.15" text-anchor="end" fill="#262626" color="#262626">4500</text><text x="157.55" y="660.42" font-size="6.15" text-anchor="end" fill="#262626" color="#262626">5000</text><text x="157.55" y="647.96" font-size="6.15" text-anchor="end" fill="#262626" color="#262626">5500</text><text x="157.55" y="635.50" font-size="6.15" text-anchor="end" fill="#262626" color="#262626">6000</text><text transform="translate(168.23,741.60) rotate(-90)" font-size="6.2" text-anchor="end" fill="#262626" color="#262626">IMCOA</text><text transform="translate(180.10,741.60) rotate(-90)" font-size="6.2" text-anchor="end" fill="#262626" color="#262626">COA</text><text transform="translate(191.97,741.60) rotate(-90)" font-size="6.2" text-anchor="end" fill="#262626" color="#262626">DBO</text><text transform="translate(203.83,741.60) rotate(-90)" font-size="6.2" text-anchor="end" fill="#262626" color="#262626">TSO</text><text transform="translate(215.70,741.60) rotate(-90)" font-size="6.2" text-anchor="end" fill="#262626" color="#262626">GWO</text><text transform="translate(227.57,741.60) rotate(-90)" font-size="6.2" text-anchor="end" fill="#262626" color="#262626">AO</text><text transform="translate(239.43,741.60) rotate(-90)" font-size="6.2" text-anchor="end" fill="#262626" color="#262626">SSA</text><text transform="translate(251.30,741.60) rotate(-90)" font-size="6.2" text-anchor="end" fill="#262626" color="#262626">HHO</text><text transform="translate(263.17,741.60) rotate(-90)" font-size="6.2" text-anchor="end" fill="#262626" color="#262626">RIME</text><text x="213.15" y="620.30" font-size="6.9" text-anchor="middle" fill="#1a1a1a" color="#1a1a1a" class="t">CEC2022 F10 Dim=20</text></g>
<g><path d="M304.03 622.1V739.4M315.88 622.1V739.4M327.74 622.1V739.4M339.59 622.1V739.4M351.45 622.1V739.4M363.31 622.1V739.4M375.16 622.1V739.4M387.02 622.1V739.4M398.87 622.1V739.4M298.1 737.90H404.8M298.1 717.78H404.8M298.1 697.66H404.8M298.1 677.54H404.8M298.1 657.42H404.8M298.1 637.30H404.8" stroke="#f0f0f0" stroke-width="0.8" fill="none"/><path d="M301.18 721.60H306.87" stroke="#292854" stroke-width="1.2"/><rect x="313.04" y="717.00" width="5.69" height="4.00" fill="#d6c6b9" stroke="#6e5e52" stroke-width="0.9"/><path d="M313.04 719.00H318.73" stroke="#6e5e52" stroke-width="0.9"/><circle cx="315.88" cy="700.40" r="1.65" fill="none" stroke="#111" stroke-width="0.85"/><circle cx="315.88" cy="710.00" r="1.65" fill="none" stroke="#111" stroke-width="0.85"/><circle cx="315.88" cy="711.00" r="1.65" fill="none" stroke="#111" stroke-width="0.85"/><circle cx="315.88" cy="712.00" r="1.65" fill="none" stroke="#111" stroke-width="0.85"/><path d="M324.89 721.60H330.58" stroke="#43192b" stroke-width="1.2"/><circle cx="327.74" cy="710.00" r="1.65" fill="none" stroke="#111" stroke-width="0.85"/><circle cx="327.74" cy="717.40" r="1.65" fill="none" stroke="#111" stroke-width="0.85"/><circle cx="327.74" cy="733.60" r="1.65" fill="none" stroke="#111" stroke-width="0.85"/><path d="M336.75 721.60H342.44" stroke="#30432f" stroke-width="1.2"/><circle cx="339.59" cy="707.00" r="1.65" fill="none" stroke="#111" stroke-width="0.85"/><circle cx="339.59" cy="717.40" r="1.65" fill="none" stroke="#111" stroke-width="0.85"/><path d="M351.45 683.40V693.60" stroke="#000" stroke-width="1" stroke-dasharray="2.4 2.1" fill="none"/><path d="M351.45 713.00V703.00" stroke="#000" stroke-width="1" stroke-dasharray="2.4 2.1" fill="none"/><path d="M350.05 683.40H352.85M350.05 713.00H352.85" stroke="#000" stroke-width="0.9" fill="none"/><rect x="348.60" y="693.60" width="5.69" height="9.40" fill="#a5c4a3" stroke="#3f5a3f" stroke-width="0.9"/><path d="M348.60 699.60H354.30" stroke="#3f5a3f" stroke-width="0.9"/><circle cx="351.45" cy="647.60" r="1.65" fill="none" stroke="#111" stroke-width="0.85"/><circle cx="351.45" cy="664.40" r="1.65" fill="none" stroke="#111" stroke-width="0.85"/><path d="M363.31 664.00V687.60" stroke="#000" stroke-width="1" stroke-dasharray="2.4 2.1" fill="none"/><path d="M363.31 712.60V704.00" stroke="#000" stroke-width="1" stroke-dasharray="2.4 2.1" fill="none"/><path d="M361.91 664.00H364.71M361.91 712.60H364.71" stroke="#000" stroke-width="0.9" fill="none"/><rect x="360.46" y="687.60" width="5.69" height="16.40" fill="#f9c6b9" stroke="#a8695e" stroke-width="0.9"/><path d="M360.46 699.00H366.15" stroke="#a8695e" stroke-width="0.9"/><circle cx="363.31" cy="634.60" r="1.65" fill="none" stroke="#111" stroke-width="0.85"/><circle cx="363.31" cy="649.00" r="1.65" fill="none" stroke="#111" stroke-width="0.85"/><path d="M372.32 721.40H378.01" stroke="#43341a" stroke-width="1.2"/><circle cx="375.16" cy="733.60" r="1.65" fill="none" stroke="#111" stroke-width="0.85"/><path d="M387.02 685.00V702.40" stroke="#000" stroke-width="1" stroke-dasharray="2.4 2.1" fill="none"/><path d="M385.62 685.00H388.42" stroke="#000" stroke-width="0.9" fill="none"/><rect x="384.17" y="702.40" width="5.69" height="15.20" fill="#e6a0be" stroke="#7a3a5a" stroke-width="0.9"/><path d="M384.17 714.00H389.86" stroke="#7a3a5a" stroke-width="0.9"/><circle cx="387.02" cy="627.00" r="1.65" fill="none" stroke="#111" stroke-width="0.85"/><circle cx="387.02" cy="661.40" r="1.65" fill="none" stroke="#111" stroke-width="0.85"/><path d="M398.87 714.90V716.00" stroke="#000" stroke-width="1" stroke-dasharray="2.4 2.1" fill="none"/><path d="M398.87 719.10V718.00" stroke="#000" stroke-width="1" stroke-dasharray="2.4 2.1" fill="none"/><path d="M397.47 714.90H400.27M397.47 719.10H400.27" stroke="#000" stroke-width="0.9" fill="none"/><rect x="396.03" y="716.00" width="5.69" height="2.00" fill="#bcb660" stroke="#615e26" stroke-width="0.9"/><path d="M396.03 717.00H401.72" stroke="#7a7630" stroke-width="0.9"/><circle cx="398.87" cy="714.00" r="1.65" fill="none" stroke="#111" stroke-width="0.85"/><circle cx="398.87" cy="715.60" r="1.65" fill="none" stroke="#111" stroke-width="0.85"/><rect x="298.1" y="622.1" width="106.69999999999999" height="117.3" fill="none" stroke="#a8a8a8" stroke-width="0.9"/><path d="M298.1 737.90h1.2M404.8 737.90h-1.2M298.1 717.78h1.2M404.8 717.78h-1.2M298.1 697.66h1.2M404.8 697.66h-1.2M298.1 677.54h1.2M404.8 677.54h-1.2M298.1 657.42h1.2M404.8 657.42h-1.2M298.1 637.30h1.2M404.8 637.30h-1.2M304.03 739.4v-1.2M304.03 622.1v1.2M315.88 739.4v-1.2M315.88 622.1v1.2M327.74 739.4v-1.2M327.74 622.1v1.2M339.59 739.4v-1.2M339.59 622.1v1.2M351.45 739.4v-1.2M351.45 622.1v1.2M363.31 739.4v-1.2M363.31 622.1v1.2M375.16 739.4v-1.2M375.16 622.1v1.2M387.02 739.4v-1.2M387.02 622.1v1.2M398.87 739.4v-1.2M398.87 622.1v1.2" stroke="#b0b0b0" stroke-width="0.6" fill="none"/><text x="295.90" y="740.40" font-size="6.15" text-anchor="end" fill="#262626" color="#262626">2500</text><text x="295.90" y="720.28" font-size="6.15" text-anchor="end" fill="#262626" color="#262626">3000</text><text x="295.90" y="700.16" font-size="6.15" text-anchor="end" fill="#262626" color="#262626">3500</text><text x="295.90" y="680.04" font-size="6.15" text-anchor="end" fill="#262626" color="#262626">4000</text><text x="295.90" y="659.92" font-size="6.15" text-anchor="end" fill="#262626" color="#262626">4500</text><text x="295.90" y="639.80" font-size="6.15" text-anchor="end" fill="#262626" color="#262626">5000</text><text transform="translate(306.58,741.60) rotate(-90)" font-size="6.2" text-anchor="end" fill="#262626" color="#262626">IMCOA</text><text transform="translate(318.43,741.60) rotate(-90)" font-size="6.2" text-anchor="end" fill="#262626" color="#262626">COA</text><text transform="translate(330.29,741.60) rotate(-90)" font-size="6.2" text-anchor="end" fill="#262626" color="#262626">DBO</text><text transform="translate(342.14,741.60) rotate(-90)" font-size="6.2" text-anchor="end" fill="#262626" color="#262626">TSO</text><text transform="translate(354.00,741.60) rotate(-90)" font-size="6.2" text-anchor="end" fill="#262626" color="#262626">GWO</text><text transform="translate(365.86,741.60) rotate(-90)" font-size="6.2" text-anchor="end" fill="#262626" color="#262626">AO</text><text transform="translate(377.71,741.60) rotate(-90)" font-size="6.2" text-anchor="end" fill="#262626" color="#262626">SSA</text><text transform="translate(389.57,741.60) rotate(-90)" font-size="6.2" text-anchor="end" fill="#262626" color="#262626">HHO</text><text transform="translate(401.42,741.60) rotate(-90)" font-size="6.2" text-anchor="end" fill="#262626" color="#262626">RIME</text><text x="351.45" y="620.30" font-size="6.9" text-anchor="middle" fill="#1a1a1a" color="#1a1a1a" class="t">CEC2022 F11 Dim=20</text></g>
<g><path d="M442.24 622.1V739.4M454.11 622.1V739.4M465.98 622.1V739.4M477.85 622.1V739.4M489.73 622.1V739.4M501.60 622.1V739.4M513.47 622.1V739.4M525.34 622.1V739.4M537.21 622.1V739.4M436.3 725.20H543.15M436.3 710.83H543.15M436.3 696.46H543.15M436.3 682.09H543.15M436.3 667.71H543.15M436.3 653.34H543.15M436.3 638.97H543.15M436.3 624.60H543.15" stroke="#f0f0f0" stroke-width="0.8" fill="none"/><rect x="439.39" y="729.40" width="5.70" height="3.60" fill="#b9b3f5" stroke="#4b4a9a" stroke-width="0.9"/><path d="M439.39 731.50H445.09" stroke="#4b4a9a" stroke-width="0.9"/><circle cx="442.24" cy="721.60" r="1.65" fill="none" stroke="#111" stroke-width="0.85"/><circle cx="442.24" cy="723.00" r="1.65" fill="none" stroke="#111" stroke-width="0.85"/><path d="M454.11 717.40V725.40" stroke="#000" stroke-width="1" stroke-dasharray="2.4 2.1" fill="none"/><path d="M454.11 733.40V731.40" stroke="#000" stroke-width="1" stroke-dasharray="2.4 2.1" fill="none"/><path d="M452.71 717.40H455.51M452.71 733.40H455.51" stroke="#000" stroke-width="0.9" fill="none"/><rect x="451.26" y="725.40" width="5.70" height="6.00" fill="#d6c6b9" stroke="#6e5e52" stroke-width="0.9"/><path d="M451.26 728.00H456.96" stroke="#6e5e52" stroke-width="0.9"/><circle cx="454.11" cy="710.60" r="1.65" fill="none" stroke="#111" stroke-width="0.85"/><path d="M465.98 711.40V722.40" stroke="#000" stroke-width="1" stroke-dasharray="2.4 2.1" fill="none"/><path d="M465.98 732.40V730.40" stroke="#000" stroke-width="1" stroke-dasharray="2.4 2.1" fill="none"/><path d="M464.58 711.40H467.38M464.58 732.40H467.38" stroke="#000" stroke-width="0.9" fill="none"/><rect x="463.13" y="722.40" width="5.70" height="8.00" fill="#d9789c" stroke="#7a2e4f" stroke-width="0.9"/><path d="M463.13 725.60H468.83" stroke="#7a2e4f" stroke-width="0.9"/><circle cx="465.98" cy="689.00" r="1.65" fill="none" stroke="#111" stroke-width="0.85"/><circle cx="465.98" cy="694.40" r="1.65" fill="none" stroke="#111" stroke-width="0.85"/><path d="M477.85 715.00V718.00" stroke="#000" stroke-width="1" stroke-dasharray="2.4 2.1" fill="none"/><path d="M477.85 731.60V727.60" stroke="#000" stroke-width="1" stroke-dasharray="2.4 2.1" fill="none"/><path d="M476.45 715.00H479.25M476.45 731.60H479.25" stroke="#000" stroke-width="0.9" fill="none"/><rect x="475.00" y="718.00" width="5.70" height="9.60" fill="#d6f0d0" stroke="#587a56" stroke-width="0.9"/><path d="M475.00 724.00H480.70" stroke="#587a56" stroke-width="0.9"/><circle cx="477.85" cy="687.40" r="1.65" fill="none" stroke="#111" stroke-width="0.85"/><circle cx="477.85" cy="698.00" r="1.65" fill="none" stroke="#111" stroke-width="0.85"/><path d="M489.73 726.60V728.00" stroke="#000" stroke-width="1" stroke-dasharray="2.4 2.1" fill="none"/><path d="M489.73 733.00V732.00" stroke="#000" stroke-width="1" stroke-dasharray="2.4 2.1" fill="none"/><path d="M488.33 726.60H491.12M488.33 733.00H491.12" stroke="#000" stroke-width="0.9" fill="none"/><rect x="486.88" y="728.00" width="5.70" height="4.00" fill="#a5c4a3" stroke="#3f5a3f" stroke-width="0.9"/><path d="M486.88 729.60H492.57" stroke="#3f5a3f" stroke-width="0.9"/><path d="M501.60 709.60V716.40" stroke="#000" stroke-width="1" stroke-dasharray="2.4 2.1" fill="none"/><path d="M501.60 729.00V724.40" stroke="#000" stroke-width="1" stroke-dasharray="2.4 2.1" fill="none"/><path d="M500.20 709.60H503.00M500.20 729.00H503.00" stroke="#000" stroke-width="0.9" fill="none"/><rect x="498.75" y="716.40" width="5.70" height="8.00" fill="#f9c6b9" stroke="#a8695e" stroke-width="0.9"/><path d="M498.75 720.60H504.45" stroke="#a8695e" stroke-width="0.9"/><path d="M513.47 726.00V728.00" stroke="#000" stroke-width="1" stroke-dasharray="2.4 2.1" fill="none"/><path d="M513.47 733.40V732.00" stroke="#000" stroke-width="1" stroke-dasharray="2.4 2.1" fill="none"/><path d="M512.07 726.00H514.87M512.07 733.40H514.87" stroke="#000" stroke-width="0.9" fill="none"/><rect x="510.62" y="728.00" width="5.70" height="4.00" fill="#f7da86" stroke="#7a6030" stroke-width="0.9"/><path d="M510.62 730.00H516.32" stroke="#7a6030" stroke-width="0.9"/><circle cx="513.47" cy="714.00" r="1.65" fill="none" stroke="#111" stroke-width="0.85"/><path d="M525.34 672.00V695.00" stroke="#000" stroke-width="1" stroke-dasharray="2.4 2.1" fill="none"/><path d="M525.34 729.00V717.40" stroke="#000" stroke-width="1" stroke-dasharray="2.4 2.1" fill="none"/><path d="M523.94 672.00H526.74M523.94 729.00H526.74" stroke="#000" stroke-width="0.9" fill="none"/><rect x="522.49" y="695.00" width="5.70" height="22.40" fill="#e6a0be" stroke="#7a3a5a" stroke-width="0.9"/><path d="M522.49 708.40H528.19" stroke="#7a3a5a" stroke-width="0.9"/><circle cx="525.34" cy="627.00" r="1.65" fill="none" stroke="#111" stroke-width="0.85"/><path d="M537.21 726.00V729.60" stroke="#000" stroke-width="1" stroke-dasharray="2.4 2.1" fill="none"/><path d="M537.21 733.00V732.40" stroke="#000" stroke-width="1" stroke-dasharray="2.4 2.1" fill="none"/><path d="M535.81 726.00H538.61M535.81 733.00H538.61" stroke="#000" stroke-width="0.9" fill="none"/><rect x="534.36" y="729.60" width="5.70" height="2.80" fill="#bcb660" stroke="#615e26" stroke-width="0.9"/><path d="M534.36 731.00H540.06" stroke="#7a7630" stroke-width="0.9"/><rect x="436.3" y="622.1" width="106.84999999999997" height="117.3" fill="none" stroke="#a8a8a8" stroke-width="0.9"/><path d="M436.3 725.20h1.2M543.15 725.20h-1.2M436.3 710.83h1.2M543.15 710.83h-1.2M436.3 696.46h1.2M543.15 696.46h-1.2M436.3 682.09h1.2M543.15 682.09h-1.2M436.3 667.71h1.2M543.15 667.71h-1.2M436.3 653.34h1.2M543.15 653.34h-1.2M436.3 638.97h1.2M543.15 638.97h-1.2M436.3 624.60h1.2M543.15 624.60h-1.2M442.24 739.4v-1.2M442.24 622.1v1.2M454.11 739.4v-1.2M454.11 622.1v1.2M465.98 739.4v-1.2M465.98 622.1v1.2M477.85 739.4v-1.2M477.85 622.1v1.2M489.73 739.4v-1.2M489.73 622.1v1.2M501.60 739.4v-1.2M501.60 622.1v1.2M513.47 739.4v-1.2M513.47 622.1v1.2M525.34 739.4v-1.2M525.34 622.1v1.2M537.21 739.4v-1.2M537.21 622.1v1.2" stroke="#b0b0b0" stroke-width="0.6" fill="none"/><text x="434.10" y="727.70" font-size="6.15" text-anchor="end" fill="#262626" color="#262626">3000</text><text x="434.10" y="713.33" font-size="6.15" text-anchor="end" fill="#262626" color="#262626">3100</text><text x="434.10" y="698.96" font-size="6.15" text-anchor="end" fill="#262626" color="#262626">3200</text><text x="434.10" y="684.59" font-size="6.15" text-anchor="end" fill="#262626" color="#262626">3300</text><text x="434.10" y="670.21" font-size="6.15" text-anchor="end" fill="#262626" color="#262626">3400</text><text x="434.10" y="655.84" font-size="6.15" text-anchor="end" fill="#262626" color="#262626">3500</text><text x="434.10" y="641.47" font-size="6.15" text-anchor="end" fill="#262626" color="#262626">3600</text><text x="434.10" y="627.10" font-size="6.15" text-anchor="end" fill="#262626" color="#262626">3700</text><text transform="translate(444.79,741.60) rotate(-90)" font-size="6.2" text-anchor="end" fill="#262626" color="#262626">IMCOA</text><text transform="translate(456.66,741.60) rotate(-90)" font-size="6.2" text-anchor="end" fill="#262626" color="#262626">COA</text><text transform="translate(468.53,741.60) rotate(-90)" font-size="6.2" text-anchor="end" fill="#262626" color="#262626">DBO</text><text transform="translate(480.40,741.60) rotate(-90)" font-size="6.2" text-anchor="end" fill="#262626" color="#262626">TSO</text><text transform="translate(492.28,741.60) rotate(-90)" font-size="6.2" text-anchor="end" fill="#262626" color="#262626">GWO</text><text transform="translate(504.15,741.60) rotate(-90)" font-size="6.2" text-anchor="end" fill="#262626" color="#262626">AO</text><text transform="translate(516.02,741.60) rotate(-90)" font-size="6.2" text-anchor="end" fill="#262626" color="#262626">SSA</text><text transform="translate(527.89,741.60) rotate(-90)" font-size="6.2" text-anchor="end" fill="#262626" color="#262626">HHO</text><text transform="translate(539.76,741.60) rotate(-90)" font-size="6.2" text-anchor="end" fill="#262626" color="#262626">RIME</text><text x="489.73" y="620.30" font-size="6.9" text-anchor="middle" fill="#1a1a1a" color="#1a1a1a" class="t">CEC2022 F12 Dim=20</text></g>
</svg>
</body></html>
